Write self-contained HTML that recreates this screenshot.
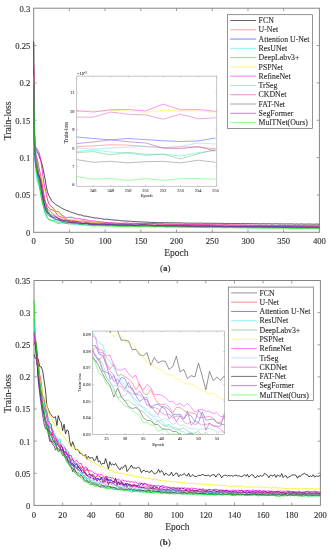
<!DOCTYPE html>
<html lang="en"><head><meta charset="utf-8"><title>Train-loss curves</title>
<style>html,body{margin:0;padding:0;background:#fff}body{width:331px;height:550px;overflow:hidden}svg{display:block}text{font-family:"Liberation Serif",serif;fill:#2e2e2e;stroke:#2e2e2e;stroke-width:.12px}text.s{stroke:#444;stroke-width:.08px;fill:#3c3c3c}</style>
</head><body>
<svg width="331" height="550" viewBox="0 0 331 550">
<rect width="331" height="550" fill="#fff"/>
<clipPath id="ca"><rect x="33.1" y="8.2" width="286.9" height="224.6"/></clipPath>
<rect x="33.7" y="8.2" width="285.7" height="224.1" fill="none" stroke="#858585" stroke-width="1.0"/>
<g clip-path="url(#ca)">
<polyline points="33.7,41.81 34.41,131.55 35.13,146.33 35.84,148.56 36.56,150.35 37.27,151.86 37.99,152.97 38.7,154.6 39.41,156.77 40.13,158.97 40.84,160.54 41.56,162.35 42.27,165.23 42.99,168.4 43.7,171.86 44.41,175.8 45.13,179.56 45.84,183.88 46.56,187.58 47.27,191.17 47.98,193.38 48.7,195.33 49.41,196.64 50.13,198.04 50.84,199.11 51.56,200.59 52.27,201.56 52.98,202.31 53.7,202.61 54.41,203.39 55.13,204.03 55.84,204.71 56.56,205.11 57.27,205.39 57.98,205.84 58.7,206.2 59.41,206.68 60.13,207.1 60.84,207.53 61.56,208.03 62.27,208.34 62.98,208.85 63.7,209.21 64.41,209.41 65.13,209.79 65.84,210.03 66.56,210.48 67.27,210.68 67.98,210.85 68.7,211.07 69.41,211.41 70.13,211.88 70.84,212.16 71.56,212.31 72.27,212.5 72.98,212.81 73.7,212.96 74.41,213.11 75.13,213.39 75.84,213.65 76.56,214.04 77.27,214.16 77.98,214.48 78.7,214.68 79.41,214.89 80.13,214.88 80.84,214.91 81.55,215.18 82.27,215.49 82.98,215.69 83.7,215.91 84.41,216.04 85.13,216.25 85.84,216.14 86.55,216.2 87.27,216.37 87.98,216.64 88.7,216.86 89.41,216.85 90.13,216.99 90.84,217.12 91.55,217.34 92.27,217.44 92.98,217.55 93.7,217.78 94.41,217.88 95.13,218.01 95.84,217.95 96.55,218 97.27,218.07 97.98,218.2 98.7,218.36 99.41,218.38 100.13,218.51 100.84,218.52 101.55,218.76 102.27,218.82 102.98,219.05 103.7,219.17 104.41,219.29 105.12,219.32 105.84,219.24 106.55,219.15 107.27,219.22 107.98,219.34 108.7,219.55 109.41,219.53 110.12,219.57 110.84,219.67 111.55,219.73 112.27,219.75 112.98,219.87 113.7,219.98 114.41,220.08 115.12,220.14 115.84,220.18 116.55,220.3 117.27,220.24 117.98,220.31 118.7,220.31 119.41,220.46 120.12,220.54 120.84,220.72 121.55,220.81 122.27,220.84 122.98,220.9 123.7,220.84 124.41,221.01 125.12,220.9 125.84,221.05 126.55,220.96 127.27,221.05 127.98,221.13 128.7,221.16 129.41,221.13 130.12,221.1 130.84,221.23 131.55,221.37 132.27,221.46 132.98,221.43 133.69,221.5 134.41,221.49 135.12,221.64 135.84,221.68 136.55,221.79 137.27,221.72 137.98,221.73 138.69,221.65 139.41,221.76 140.12,221.82 140.84,221.93 141.55,221.99 142.27,221.99 142.98,222.03 143.69,222.05 144.41,222.15 145.12,222.21 145.84,222.14 146.55,222.14 147.27,222.18 147.98,222.27 148.69,222.2 149.41,222.25 150.12,222.3 150.84,222.43 151.55,222.47 152.27,222.45 152.98,222.44 153.69,222.37 154.41,222.47 155.12,222.47 155.84,222.52 156.55,222.51 157.27,222.61 157.98,222.66 158.69,222.6 159.41,222.59 160.12,222.53 160.84,222.62 161.55,222.63 162.26,222.68 162.98,222.67 163.69,222.68 164.41,222.67 165.12,222.72 165.84,222.66 166.55,222.63 167.26,222.63 167.98,222.73 168.69,222.84 169.41,222.83 170.12,222.77 170.84,222.72 171.55,222.75 172.26,222.77 172.98,222.74 173.69,222.73 174.41,222.8 175.12,222.78 175.84,222.9 176.55,222.85 177.26,222.9 177.98,222.82 178.69,222.78 179.41,222.74 180.12,222.85 180.84,223.03 181.55,223.07 182.26,223.07 182.98,223 183.69,223.01 184.41,223.05 185.12,223.16 185.84,223.19 186.55,223.12 187.26,223.04 187.98,223.06 188.69,223.11 189.41,223.18 190.12,223.2 190.83,223.21 191.55,223.23 192.26,223.2 192.98,223.17 193.69,223.08 194.41,223.16 195.12,223.2 195.83,223.27 196.55,223.27 197.26,223.24 197.98,223.24 198.69,223.19 199.41,223.19 200.12,223.07 200.83,223.16 201.55,223.14 202.26,223.24 202.98,223.19 203.69,223.3 204.41,223.33 205.12,223.3 205.83,223.24 206.55,223.23 207.26,223.28 207.98,223.23 208.69,223.24 209.41,223.34 210.12,223.26 210.83,223.3 211.55,223.26 212.26,223.34 212.98,223.3 213.69,223.34 214.41,223.37 215.12,223.34 215.83,223.37 216.55,223.35 217.26,223.31 217.98,223.37 218.69,223.38 219.41,223.36 220.12,223.34 220.83,223.34 221.55,223.43 222.26,223.44 222.98,223.48 223.69,223.39 224.4,223.48 225.12,223.46 225.83,223.52 226.55,223.53 227.26,223.45 227.98,223.4 228.69,223.37 229.4,223.41 230.12,223.47 230.83,223.57 231.55,223.6 232.26,223.63 232.98,223.51 233.69,223.58 234.4,223.6 235.12,223.61 235.83,223.52 236.55,223.5 237.26,223.5 237.98,223.49 238.69,223.54 239.4,223.56 240.12,223.71 240.83,223.63 241.55,223.58 242.26,223.46 242.98,223.51 243.69,223.55 244.4,223.59 245.12,223.64 245.83,223.66 246.55,223.67 247.26,223.6 247.98,223.57 248.69,223.59 249.4,223.68 250.12,223.74 250.83,223.67 251.55,223.63 252.26,223.61 252.97,223.7 253.69,223.78 254.4,223.79 255.12,223.74 255.83,223.72 256.55,223.73 257.26,223.78 257.97,223.77 258.69,223.83 259.4,223.84 260.12,223.88 260.83,223.78 261.55,223.81 262.26,223.76 262.97,223.74 263.69,223.72 264.4,223.78 265.12,223.84 265.83,223.83 266.55,223.86 267.26,223.85 267.97,223.77 268.69,223.74 269.4,223.78 270.12,223.91 270.83,223.89 271.55,223.94 272.26,223.95 272.97,223.92 273.69,223.91 274.4,223.82 275.12,223.82 275.83,223.77 276.55,223.8 277.26,223.79 277.97,223.81 278.69,223.86 279.4,224.01 280.12,224 280.83,223.92 281.54,223.83 282.26,223.87 282.97,223.98 283.69,224.04 284.4,224 285.12,223.97 285.83,223.95 286.54,223.95 287.26,223.96 287.97,223.98 288.69,223.99 289.4,223.98 290.12,223.96 290.83,223.9 291.54,223.88 292.26,223.9 292.97,224.05 293.69,224.06 294.4,224.15 295.12,224.14 295.83,224.13 296.54,224.02 297.26,223.97 297.97,224.08 298.69,224.13 299.4,224.16 300.12,224.07 300.83,223.96 301.54,223.93 302.26,223.99 302.97,224.14 303.69,224.15 304.4,224.13 305.12,224.13 305.83,224.13 306.54,224.17 307.26,224.08 307.97,224.05 308.69,223.96 309.4,224.03 310.11,224.05 310.83,224.11 311.54,224.11 312.26,224.15 312.97,224.2 313.69,224.24 314.4,224.2 315.11,224.16 315.83,224.09 316.54,224.09 317.26,224.15 317.97,224.2 318.69,224.23 319.4,224.17" fill="none" stroke="#101010" stroke-width="0.75" stroke-linejoin="round" />
<polyline points="33.7,67.96 34.41,140.09 35.13,153.3 35.84,155.21 36.56,156.88 37.27,159.3 37.99,162.54 38.7,166.43 39.41,169.88 40.13,173.34 40.84,176.28 41.56,180.43 42.27,184.45 42.99,189.33 43.7,193.87 44.41,198.33 45.13,201.24 45.84,203.03 46.56,204.24 47.27,205.26 47.98,206.32 48.7,207.14 49.41,208.24 50.13,209.05 50.84,209.62 51.56,209.63 52.27,209.97 52.98,210.23 53.7,210.72 54.41,211 55.13,211.85 55.84,212.83 56.56,213.96 57.27,214.9 57.98,215.72 58.7,216.32 59.41,216.75 60.13,216.96 60.84,217.06 61.56,216.98 62.27,216.98 62.98,217.22 63.7,217.57 64.41,217.97 65.13,218.41 65.84,219.04 66.56,219.69 67.27,220.02 67.98,220.22 68.7,220.25 69.41,220.24 70.13,220.02 70.84,219.95 71.56,219.95 72.27,220.22 72.98,220.35 73.7,220.6 74.41,220.7 75.13,220.74 75.84,220.79 76.56,220.9 77.27,221.11 77.98,221.22 78.7,221.16 79.41,221.14 80.13,221.19 80.84,221.2 81.55,221.13 82.27,221.07 82.98,221.06 83.7,221.13 84.41,221.19 85.13,221.42 85.84,221.52 86.55,221.58 87.27,221.62 87.98,221.79 88.7,222 89.41,222.02 90.13,222.09 90.84,222.07 91.55,222.1 92.27,222.06 92.98,222.25 93.7,222.51 94.41,222.83 95.13,223.03 95.84,223.19 96.55,223.25 97.27,223.17 97.98,222.97 98.7,222.83 99.41,222.78 100.13,222.82 100.84,222.93 101.55,223.06 102.27,223.28 102.98,223.31 103.7,223.32 104.41,223.26 105.12,223.38 105.84,223.51 106.55,223.64 107.27,223.65 107.98,223.64 108.7,223.71 109.41,223.68 110.12,223.76 110.84,223.67 111.55,223.76 112.27,223.88 112.98,224.03 113.7,224.1 114.41,224.12 115.12,224.12 115.84,224.16 116.55,224.22 117.27,224.16 117.98,224.05 118.7,223.91 119.41,223.95 120.12,223.99 120.84,224.07 121.55,224.12 122.27,224.17 122.98,224.08 123.7,224.09 124.41,224.02 125.12,224.1 125.84,224.14 126.55,224.23 127.27,224.34 127.98,224.45 128.7,224.57 129.41,224.55 130.12,224.47 130.84,224.5 131.55,224.57 132.27,224.66 132.98,224.77 133.69,224.88 134.41,225 135.12,225.09 135.84,225.19 136.55,225.25 137.27,225.26 137.98,225.26 138.69,225.23 139.41,225.12 140.12,225.02 140.84,224.91 141.55,224.86 142.27,224.84 142.98,224.79 143.69,224.88 144.41,224.9 145.12,225.04 145.84,224.98 146.55,225 147.27,225.12 147.98,225.28 148.69,225.35 149.41,225.27 150.12,225.2 150.84,225.21 151.55,225.2 152.27,225.2 152.98,225.21 153.69,225.21 154.41,225.36 155.12,225.39 155.84,225.52 156.55,225.44 157.27,225.48 157.98,225.47 158.69,225.46 159.41,225.45 160.12,225.41 160.84,225.44 161.55,225.38 162.26,225.33 162.98,225.25 163.69,225.29 164.41,225.32 165.12,225.42 165.84,225.48 166.55,225.53 167.26,225.5 167.98,225.48 168.69,225.46 169.41,225.45 170.12,225.39 170.84,225.4 171.55,225.38 172.26,225.46 172.98,225.5 173.69,225.68 174.41,225.76 175.12,225.87 175.84,225.92 176.55,225.89 177.26,225.86 177.98,225.72 178.69,225.68 179.41,225.64 180.12,225.67 180.84,225.68 181.55,225.68 182.26,225.71 182.98,225.8 183.69,225.93 184.41,225.99 185.12,226.08 185.84,226.02 186.55,226.03 187.26,225.98 187.98,226.02 188.69,226 189.41,226.04 190.12,226.09 190.83,226.12 191.55,226.12 192.26,226.06 192.98,225.95 193.69,225.91 194.41,225.87 195.12,225.99 195.83,225.98 196.55,226.03 197.26,226.02 197.98,226.04 198.69,226.03 199.41,226.08 200.12,226.15 200.83,226.29 201.55,226.3 202.26,226.31 202.98,226.25 203.69,226.26 204.41,226.2 205.12,226.28 205.83,226.28 206.55,226.28 207.26,226.2 207.98,226.18 208.69,226.19 209.41,226.21 210.12,226.26 210.83,226.23 211.55,226.19 212.26,226.2 212.98,226.26 213.69,226.3 214.41,226.28 215.12,226.28 215.83,226.35 216.55,226.34 217.26,226.32 217.98,226.34 218.69,226.41 219.41,226.47 220.12,226.45 220.83,226.45 221.55,226.36 222.26,226.36 222.98,226.31 223.69,226.33 224.4,226.33 225.12,226.42 225.83,226.47 226.55,226.48 227.26,226.47 227.98,226.53 228.69,226.57 229.4,226.6 230.12,226.54 230.83,226.61 231.55,226.59 232.26,226.64 232.98,226.57 233.69,226.53 234.4,226.5 235.12,226.47 235.83,226.42 236.55,226.47 237.26,226.46 237.98,226.55 238.69,226.54 239.4,226.6 240.12,226.67 240.83,226.73 241.55,226.73 242.26,226.69 242.98,226.68 243.69,226.63 244.4,226.55 245.12,226.55 245.83,226.57 246.55,226.53 247.26,226.44 247.98,226.42 248.69,226.49 249.4,226.53 250.12,226.56 250.83,226.58 251.55,226.56 252.26,226.57 252.97,226.57 253.69,226.64 254.4,226.65 255.12,226.7 255.83,226.71 256.55,226.73 257.26,226.75 257.97,226.77 258.69,226.81 259.4,226.82 260.12,226.83 260.83,226.83 261.55,226.78 262.26,226.78 262.97,226.72 263.69,226.74 264.4,226.74 265.12,226.82 265.83,226.86 266.55,226.86 267.26,226.87 267.97,226.82 268.69,226.84 269.4,226.88 270.12,226.93 270.83,226.97 271.55,226.92 272.26,226.89 272.97,226.83 273.69,226.87 274.4,226.93 275.12,226.92 275.83,226.88 276.55,226.87 277.26,226.9 277.97,226.85 278.69,226.83 279.4,226.87 280.12,226.95 280.83,226.99 281.54,227.05 282.26,227.12 282.97,227.15 283.69,227.16 284.4,227.13 285.12,227.11 285.83,227 286.54,227 287.26,226.98 287.97,227.03 288.69,226.99 289.4,226.96 290.12,226.97 290.83,227.01 291.54,227.09 292.26,227.11 292.97,227.08 293.69,227.05 294.4,227.06 295.12,227.09 295.83,227.11 296.54,227.09 297.26,227.1 297.97,227.12 298.69,227.19 299.4,227.21 300.12,227.18 300.83,227.22 301.54,227.22 302.26,227.28 302.97,227.24 303.69,227.25 304.4,227.23 305.12,227.18 305.83,227.13 306.54,227.14 307.26,227.12 307.97,227.14 308.69,227.11 309.4,227.12 310.11,227.11 310.83,227.11 311.54,227.17 312.26,227.2 312.97,227.23 313.69,227.21 314.4,227.22 315.11,227.27 315.83,227.31 316.54,227.32 317.26,227.34 317.97,227.32 318.69,227.34 319.4,227.29" fill="none" stroke="#f01010" stroke-width="0.75" stroke-linejoin="round" />
<polyline points="33.7,75.43 34.41,144.15 35.13,160.16 35.84,165.54 36.56,168.73 37.27,171.91 37.99,174.51 38.7,176.8 39.41,179.4 40.13,182.99 40.84,186.67 41.56,191.42 42.27,195.58 42.99,199.27 43.7,201.89 44.41,204.19 45.13,206.05 45.84,207.55 46.56,209.15 47.27,210.66 47.98,212.22 48.7,213.51 49.41,214.51 50.13,215.14 50.84,215.68 51.56,216.33 52.27,217.13 52.98,217.95 53.7,218.54 54.41,219.02 55.13,219.37 55.84,219.51 56.56,219.43 57.27,219.34 57.98,219.34 58.7,219.65 59.41,219.98 60.13,220.44 60.84,220.68 61.56,220.98 62.27,221.14 62.98,221.28 63.7,221.13 64.41,220.92 65.13,220.74 65.84,220.56 66.56,220.59 67.27,220.59 67.98,220.85 68.7,221.09 69.41,221.57 70.13,221.95 70.84,222.3 71.56,222.49 72.27,222.74 72.98,222.77 73.7,222.82 74.41,222.79 75.13,222.95 75.84,223.13 76.56,223.32 77.27,223.58 77.98,223.76 78.7,223.84 79.41,223.83 80.13,223.83 80.84,223.87 81.55,223.9 82.27,223.83 82.98,223.68 83.7,223.62 84.41,223.51 85.13,223.49 85.84,223.45 86.55,223.52 87.27,223.67 87.98,223.77 88.7,223.87 89.41,223.81 90.13,223.74 90.84,223.72 91.55,223.74 92.27,223.87 92.98,223.9 93.7,224.1 94.41,224.2 95.13,224.38 95.84,224.45 96.55,224.5 97.27,224.5 97.98,224.4 98.7,224.24 99.41,224.09 100.13,224.06 100.84,224.09 101.55,224.16 102.27,224.15 102.98,224.26 103.7,224.26 104.41,224.39 105.12,224.43 105.84,224.52 106.55,224.47 107.27,224.42 107.98,224.38 108.7,224.42 109.41,224.4 110.12,224.41 110.84,224.42 111.55,224.41 112.27,224.45 112.98,224.44 113.7,224.55 114.41,224.61 115.12,224.64 115.84,224.71 116.55,224.7 117.27,224.72 117.98,224.67 118.7,224.81 119.41,224.87 120.12,224.9 120.84,224.86 121.55,224.84 122.27,224.91 122.98,224.8 123.7,224.77 124.41,224.61 125.12,224.7 125.84,224.66 126.55,224.72 127.27,224.64 127.98,224.71 128.7,224.72 129.41,224.68 130.12,224.7 130.84,224.75 131.55,224.89 132.27,224.94 132.98,224.91 133.69,224.88 134.41,224.89 135.12,224.99 135.84,224.98 136.55,224.87 137.27,224.72 137.98,224.68 138.69,224.71 139.41,224.71 140.12,224.78 140.84,224.8 141.55,224.79 142.27,224.82 142.98,224.75 143.69,224.86 144.41,224.96 145.12,225.11 145.84,225.12 146.55,225.14 147.27,225.24 147.98,225.29 148.69,225.22 149.41,225.14 150.12,225.14 150.84,225.14 151.55,225.14 152.27,225.19 152.98,225.29 153.69,225.37 154.41,225.35 155.12,225.36 155.84,225.29 156.55,225.27 157.27,225.3 157.98,225.28 158.69,225.24 159.41,225.14 160.12,225.13 160.84,225.23 161.55,225.34 162.26,225.42 162.98,225.49 163.69,225.56 164.41,225.54 165.12,225.48 165.84,225.37 166.55,225.42 167.26,225.44 167.98,225.47 168.69,225.46 169.41,225.44 170.12,225.53 170.84,225.56 171.55,225.65 172.26,225.62 172.98,225.6 173.69,225.52 174.41,225.48 175.12,225.4 175.84,225.41 176.55,225.37 177.26,225.47 177.98,225.43 178.69,225.5 179.41,225.48 180.12,225.56 180.84,225.51 181.55,225.57 182.26,225.55 182.98,225.53 183.69,225.48 184.41,225.46 185.12,225.45 185.84,225.45 186.55,225.48 187.26,225.51 187.98,225.54 188.69,225.47 189.41,225.46 190.12,225.48 190.83,225.59 191.55,225.68 192.26,225.73 192.98,225.8 193.69,225.82 194.41,225.91 195.12,225.91 195.83,225.96 196.55,225.91 197.26,225.89 197.98,225.91 198.69,225.88 199.41,225.9 200.12,225.87 200.83,225.92 201.55,225.94 202.26,225.88 202.98,225.86 203.69,225.81 204.41,225.79 205.12,225.73 205.83,225.7 206.55,225.75 207.26,225.81 207.98,225.81 208.69,225.77 209.41,225.7 210.12,225.87 210.83,225.94 211.55,225.99 212.26,225.94 212.98,225.98 213.69,226.03 214.41,226.06 215.12,226.03 215.83,225.91 216.55,226.09 217.26,226.01 217.98,226 218.69,225.91 219.41,225.93 220.12,225.92 220.83,225.91 221.55,225.97 222.26,226.07 222.98,226.21 223.69,226.25 224.4,226.17 225.12,226.15 225.83,226.1 226.55,226.19 227.26,226.16 227.98,226.16 228.69,226.07 229.4,226.11 230.12,226.13 230.83,226.2 231.55,226.21 232.26,226.23 232.98,226.25 233.69,226.29 234.4,226.28 235.12,226.28 235.83,226.24 236.55,226.33 237.26,226.32 237.98,226.31 238.69,226.24 239.4,226.23 240.12,226.23 240.83,226.23 241.55,226.27 242.26,226.26 242.98,226.28 243.69,226.29 244.4,226.27 245.12,226.29 245.83,226.33 246.55,226.4 247.26,226.41 247.98,226.45 248.69,226.47 249.4,226.51 250.12,226.53 250.83,226.56 251.55,226.61 252.26,226.55 252.97,226.51 253.69,226.45 254.4,226.48 255.12,226.42 255.83,226.4 256.55,226.41 257.26,226.49 257.97,226.51 258.69,226.48 259.4,226.49 260.12,226.42 260.83,226.47 261.55,226.44 262.26,226.53 262.97,226.45 263.69,226.48 264.4,226.47 265.12,226.51 265.83,226.48 266.55,226.52 267.26,226.56 267.97,226.64 268.69,226.6 269.4,226.58 270.12,226.53 270.83,226.54 271.55,226.54 272.26,226.55 272.97,226.52 273.69,226.49 274.4,226.57 275.12,226.64 275.83,226.74 276.55,226.71 277.26,226.76 277.97,226.78 278.69,226.84 279.4,226.81 280.12,226.81 280.83,226.78 281.54,226.76 282.26,226.73 282.97,226.72 283.69,226.68 284.4,226.68 285.12,226.68 285.83,226.74 286.54,226.78 287.26,226.84 287.97,226.89 288.69,226.85 289.4,226.73 290.12,226.68 290.83,226.73 291.54,226.8 292.26,226.82 292.97,226.85 293.69,226.85 294.4,226.88 295.12,226.88 295.83,226.85 296.54,226.84 297.26,226.81 297.97,226.83 298.69,226.81 299.4,226.84 300.12,226.86 300.83,226.91 301.54,226.84 302.26,226.83 302.97,226.84 303.69,226.9 304.4,226.91 305.12,226.88 305.83,226.84 306.54,226.84 307.26,226.88 307.97,226.94 308.69,227.03 309.4,227.01 310.11,227.02 310.83,226.92 311.54,226.94 312.26,227.02 312.97,227.14 313.69,227.15 314.4,227.14 315.11,227.14 315.83,227.14 316.54,227.07 317.26,227.04 317.97,227.04 318.69,227.03 319.4,227.02" fill="none" stroke="#1010f0" stroke-width="0.75" stroke-linejoin="round" />
<polyline points="33.7,90.37 34.41,140.27 35.13,160.01 35.84,169.92 36.56,176.63 37.27,180.72 37.99,182.89 38.7,184.68 39.41,187.72 40.13,191.47 40.84,194.79 41.56,198.17 42.27,201.16 42.99,204.19 43.7,207.27 44.41,210.08 45.13,212.77 45.84,214.63 46.56,216.46 47.27,217.73 47.98,218.59 48.7,219.02 49.41,219.42 50.13,219.82 50.84,220.29 51.56,220.55 52.27,220.68 52.98,220.52 53.7,220.42 54.41,220.46 55.13,220.68 55.84,221.02 56.56,221.36 57.27,221.7 57.98,221.97 58.7,222.1 59.41,222.13 60.13,222.08 60.84,222.11 61.56,222.24 62.27,222.52 62.98,222.76 63.7,222.98 64.41,222.96 65.13,222.99 65.84,223.02 66.56,223.03 67.27,223.03 67.98,222.98 68.7,222.92 69.41,222.85 70.13,222.91 70.84,222.99 71.56,223.17 72.27,223.32 72.98,223.62 73.7,223.98 74.41,224.31 75.13,224.61 75.84,224.76 76.56,224.81 77.27,224.85 77.98,224.84 78.7,224.75 79.41,224.59 80.13,224.41 80.84,224.37 81.55,224.29 82.27,224.28 82.98,224.21 83.7,224.29 84.41,224.36 85.13,224.49 85.84,224.58 86.55,224.68 87.27,224.7 87.98,224.76 88.7,224.76 89.41,224.83 90.13,224.87 90.84,224.98 91.55,225.05 92.27,225.09 92.98,225.11 93.7,225.14 94.41,225.14 95.13,225.15 95.84,225.07 96.55,225.01 97.27,224.99 97.98,224.88 98.7,224.81 99.41,224.77 100.13,224.86 100.84,224.97 101.55,224.94 102.27,225.01 102.98,225.12 103.7,225.22 104.41,225.29 105.12,225.19 105.84,225.26 106.55,225.33 107.27,225.4 107.98,225.38 108.7,225.34 109.41,225.45 110.12,225.46 110.84,225.42 111.55,225.42 112.27,225.39 112.98,225.43 113.7,225.23 114.41,225.2 115.12,225.16 115.84,225.2 116.55,225.22 117.27,225.28 117.98,225.32 118.7,225.34 119.41,225.33 120.12,225.21 120.84,225.13 121.55,225.05 122.27,225.1 122.98,225.17 123.7,225.24 124.41,225.33 125.12,225.34 125.84,225.32 126.55,225.29 127.27,225.3 127.98,225.31 128.7,225.34 129.41,225.38 130.12,225.42 130.84,225.52 131.55,225.51 132.27,225.58 132.98,225.61 133.69,225.74 134.41,225.77 135.12,225.79 135.84,225.69 136.55,225.68 137.27,225.68 137.98,225.69 138.69,225.69 139.41,225.7 140.12,225.69 140.84,225.69 141.55,225.61 142.27,225.57 142.98,225.52 143.69,225.49 144.41,225.49 145.12,225.42 145.84,225.39 146.55,225.43 147.27,225.45 147.98,225.51 148.69,225.49 149.41,225.54 150.12,225.55 150.84,225.52 151.55,225.57 152.27,225.66 152.98,225.73 153.69,225.78 154.41,225.79 155.12,226 155.84,226.02 156.55,226.06 157.27,225.99 157.98,226 158.69,225.95 159.41,225.93 160.12,225.88 160.84,225.93 161.55,225.94 162.26,225.97 162.98,225.98 163.69,226.05 164.41,226.09 165.12,226.13 165.84,226.11 166.55,226.08 167.26,226.07 167.98,226.08 168.69,226.13 169.41,226.05 170.12,226.05 170.84,226 171.55,226.03 172.26,225.97 172.98,226.03 173.69,226.08 174.41,226.12 175.12,226.08 175.84,226.1 176.55,226.13 177.26,226.1 177.98,226.01 178.69,225.94 179.41,225.98 180.12,226.03 180.84,226.08 181.55,226.1 182.26,226.2 182.98,226.24 183.69,226.3 184.41,226.31 185.12,226.3 185.84,226.29 186.55,226.26 187.26,226.23 187.98,226.25 188.69,226.21 189.41,226.19 190.12,226.11 190.83,226.07 191.55,226.12 192.26,226.2 192.98,226.26 193.69,226.24 194.41,226.16 195.12,226.16 195.83,226.22 196.55,226.28 197.26,226.35 197.98,226.39 198.69,226.37 199.41,226.37 200.12,226.32 200.83,226.39 201.55,226.34 202.26,226.35 202.98,226.33 203.69,226.41 204.41,226.46 205.12,226.46 205.83,226.39 206.55,226.34 207.26,226.38 207.98,226.42 208.69,226.46 209.41,226.44 210.12,226.47 210.83,226.4 211.55,226.48 212.26,226.53 212.98,226.62 213.69,226.57 214.41,226.65 215.12,226.51 215.83,226.42 216.55,226.39 217.26,226.4 217.98,226.44 218.69,226.41 219.41,226.41 220.12,226.49 220.83,226.52 221.55,226.59 222.26,226.59 222.98,226.62 223.69,226.63 224.4,226.63 225.12,226.59 225.83,226.6 226.55,226.62 227.26,226.74 227.98,226.76 228.69,226.78 229.4,226.74 230.12,226.7 230.83,226.65 231.55,226.61 232.26,226.61 232.98,226.66 233.69,226.75 234.4,226.78 235.12,226.8 235.83,226.78 236.55,226.77 237.26,226.77 237.98,226.76 238.69,226.82 239.4,226.76 240.12,226.77 240.83,226.77 241.55,226.9 242.26,226.93 242.98,226.98 243.69,226.96 244.4,226.93 245.12,226.86 245.83,226.83 246.55,226.81 247.26,226.85 247.98,226.85 248.69,226.92 249.4,226.94 250.12,226.97 250.83,227 251.55,226.93 252.26,226.96 252.97,226.88 253.69,226.97 254.4,226.95 255.12,227.04 255.83,227.05 256.55,227.07 257.26,227.03 257.97,227.05 258.69,227.04 259.4,227.09 260.12,227.06 260.83,227.09 261.55,227.05 262.26,227.1 262.97,227.06 263.69,227.06 264.4,227.02 265.12,227.07 265.83,227.12 266.55,227.15 267.26,227.13 267.97,227.13 268.69,227.17 269.4,227.23 270.12,227.21 270.83,227.19 271.55,227.18 272.26,227.16 272.97,227.12 273.69,227.09 274.4,227.14 275.12,227.19 275.83,227.24 276.55,227.25 277.26,227.23 277.97,227.21 278.69,227.21 279.4,227.23 280.12,227.25 280.83,227.3 281.54,227.35 282.26,227.35 282.97,227.32 283.69,227.26 284.4,227.24 285.12,227.25 285.83,227.28 286.54,227.31 287.26,227.31 287.97,227.33 288.69,227.33 289.4,227.34 290.12,227.35 290.83,227.35 291.54,227.3 292.26,227.3 292.97,227.29 293.69,227.33 294.4,227.28 295.12,227.33 295.83,227.31 296.54,227.33 297.26,227.32 297.97,227.39 298.69,227.41 299.4,227.43 300.12,227.45 300.83,227.44 301.54,227.45 302.26,227.45 302.97,227.43 303.69,227.38 304.4,227.33 305.12,227.38 305.83,227.38 306.54,227.41 307.26,227.36 307.97,227.42 308.69,227.43 309.4,227.49 310.11,227.52 310.83,227.57 311.54,227.56 312.26,227.55 312.97,227.56 313.69,227.55 314.4,227.49 315.11,227.42 315.83,227.44 316.54,227.46 317.26,227.48 317.97,227.5 318.69,227.55 319.4,227.6" fill="none" stroke="#00e0e0" stroke-width="0.75" stroke-linejoin="round" />
<polyline points="33.7,82.9 34.41,141.56 35.13,156.99 35.84,163.13 36.56,168.22 37.27,173.13 37.99,177.28 38.7,180.9 39.41,183.42 40.13,186.09 40.84,188.67 41.56,191.28 42.27,193.06 42.99,195.04 43.7,197.26 44.41,199.87 45.13,202.69 45.84,205.26 46.56,207.62 47.27,209.47 47.98,211.21 48.7,212.24 49.41,213.05 50.13,213.62 50.84,214.35 51.56,214.82 52.27,215.11 52.98,215.33 53.7,215.63 54.41,216.04 55.13,216.36 55.84,216.68 56.56,216.96 57.27,217.51 57.98,218.02 58.7,218.55 59.41,219.01 60.13,219.49 60.84,219.98 61.56,220.29 62.27,220.45 62.98,220.38 63.7,220.29 64.41,220.33 65.13,220.35 65.84,220.43 66.56,220.36 67.27,220.5 67.98,220.6 68.7,220.72 69.41,220.86 70.13,220.98 70.84,221.22 71.56,221.27 72.27,221.35 72.98,221.45 73.7,221.67 74.41,221.76 75.13,221.85 75.84,221.83 76.56,221.76 77.27,221.6 77.98,221.54 78.7,221.8 79.41,222.13 80.13,222.48 80.84,222.81 81.55,223.07 82.27,223.38 82.98,223.39 83.7,223.41 84.41,223.14 85.13,223.04 85.84,222.9 86.55,223.04 87.27,223.27 87.98,223.58 88.7,223.77 89.41,223.9 90.13,223.86 90.84,223.75 91.55,223.65 92.27,223.7 92.98,223.76 93.7,223.85 94.41,223.82 95.13,223.88 95.84,223.92 96.55,224.08 97.27,224.26 97.98,224.36 98.7,224.4 99.41,224.29 100.13,224.22 100.84,224.15 101.55,224.09 102.27,223.96 102.98,223.95 103.7,224.02 104.41,224.18 105.12,224.25 105.84,224.28 106.55,224.25 107.27,224.11 107.98,224.1 108.7,224.08 109.41,224.15 110.12,224.17 110.84,224.31 111.55,224.48 112.27,224.58 112.98,224.71 113.7,224.79 114.41,224.89 115.12,224.91 115.84,224.94 116.55,224.93 117.27,224.96 117.98,224.97 118.7,225.03 119.41,225.08 120.12,225.15 120.84,225.23 121.55,225.23 122.27,225.27 122.98,225.3 123.7,225.33 124.41,225.3 125.12,225.33 125.84,225.28 126.55,225.3 127.27,225.24 127.98,225.25 128.7,225.24 129.41,225.23 130.12,225.19 130.84,225.26 131.55,225.29 132.27,225.4 132.98,225.46 133.69,225.48 134.41,225.48 135.12,225.36 135.84,225.4 136.55,225.45 137.27,225.57 137.98,225.6 138.69,225.69 139.41,225.71 140.12,225.68 140.84,225.56 141.55,225.46 142.27,225.37 142.98,225.36 143.69,225.41 144.41,225.54 145.12,225.63 145.84,225.7 146.55,225.72 147.27,225.74 147.98,225.76 148.69,225.66 149.41,225.57 150.12,225.56 150.84,225.63 151.55,225.76 152.27,225.75 152.98,225.78 153.69,225.79 154.41,225.84 155.12,225.84 155.84,225.87 156.55,225.84 157.27,225.88 157.98,225.86 158.69,225.91 159.41,225.88 160.12,225.92 160.84,225.91 161.55,225.99 162.26,225.96 162.98,225.98 163.69,225.9 164.41,225.89 165.12,225.83 165.84,225.9 166.55,225.91 167.26,226.01 167.98,225.92 168.69,226.01 169.41,226.01 170.12,226.11 170.84,226 171.55,226.03 172.26,226 172.98,226.08 173.69,226.11 174.41,226.13 175.12,226.1 175.84,226.06 176.55,226.05 177.26,226.1 177.98,226.09 178.69,226.13 179.41,226.11 180.12,226.07 180.84,226.07 181.55,226.1 182.26,226.22 182.98,226.29 183.69,226.3 184.41,226.34 185.12,226.35 185.84,226.39 186.55,226.35 187.26,226.25 187.98,226.29 188.69,226.25 189.41,226.28 190.12,226.24 190.83,226.27 191.55,226.27 192.26,226.18 192.98,226.19 193.69,226.28 194.41,226.33 195.12,226.29 195.83,226.27 196.55,226.36 197.26,226.33 197.98,226.3 198.69,226.18 199.41,226.22 200.12,226.26 200.83,226.35 201.55,226.36 202.26,226.35 202.98,226.44 203.69,226.56 204.41,226.6 205.12,226.6 205.83,226.65 206.55,226.72 207.26,226.7 207.98,226.62 208.69,226.58 209.41,226.53 210.12,226.51 210.83,226.47 211.55,226.6 212.26,226.5 212.98,226.58 213.69,226.57 214.41,226.76 215.12,226.56 215.83,226.38 216.55,226.62 217.26,226.58 217.98,226.56 218.69,226.49 219.41,226.45 220.12,226.44 220.83,226.5 221.55,226.52 222.26,226.54 222.98,226.56 223.69,226.66 224.4,226.76 225.12,226.76 225.83,226.71 226.55,226.63 227.26,226.66 227.98,226.65 228.69,226.68 229.4,226.64 230.12,226.67 230.83,226.7 231.55,226.76 232.26,226.85 232.98,226.87 233.69,226.91 234.4,226.84 235.12,226.81 235.83,226.73 236.55,226.74 237.26,226.78 237.98,226.81 238.69,226.85 239.4,226.83 240.12,226.83 240.83,226.85 241.55,226.87 242.26,226.89 242.98,226.89 243.69,226.89 244.4,226.87 245.12,226.89 245.83,226.94 246.55,227.04 247.26,227.03 247.98,227.03 248.69,227.04 249.4,227.05 250.12,227.05 250.83,227.03 251.55,227.07 252.26,227.11 252.97,227.07 253.69,227.09 254.4,227.05 255.12,226.99 255.83,226.93 256.55,226.9 257.26,226.97 257.97,227.01 258.69,227.05 259.4,227.05 260.12,227.07 260.83,227.09 261.55,227.09 262.26,227.06 262.97,227.12 263.69,227.19 264.4,227.26 265.12,227.19 265.83,227.13 266.55,227.07 267.26,227.12 267.97,227.17 268.69,227.19 269.4,227.17 270.12,227.16 270.83,227.15 271.55,227.14 272.26,227.12 272.97,227.15 273.69,227.23 274.4,227.26 275.12,227.23 275.83,227.18 276.55,227.19 277.26,227.21 277.97,227.19 278.69,227.19 279.4,227.19 280.12,227.25 280.83,227.3 281.54,227.33 282.26,227.37 282.97,227.41 283.69,227.44 284.4,227.39 285.12,227.36 285.83,227.3 286.54,227.32 287.26,227.31 287.97,227.36 288.69,227.36 289.4,227.31 290.12,227.26 290.83,227.23 291.54,227.27 292.26,227.3 292.97,227.35 293.69,227.38 294.4,227.38 295.12,227.37 295.83,227.35 296.54,227.34 297.26,227.36 297.97,227.38 298.69,227.42 299.4,227.38 300.12,227.44 300.83,227.44 301.54,227.41 302.26,227.38 302.97,227.42 303.69,227.5 304.4,227.47 305.12,227.45 305.83,227.42 306.54,227.43 307.26,227.43 307.97,227.36 308.69,227.37 309.4,227.39 310.11,227.5 310.83,227.51 311.54,227.5 312.26,227.47 312.97,227.47 313.69,227.52 314.4,227.54 315.11,227.58 315.83,227.58 316.54,227.65 317.26,227.67 317.97,227.69 318.69,227.65 319.4,227.63" fill="none" stroke="#339933" stroke-width="0.75" stroke-linejoin="round" />
<polyline points="33.7,75.43 34.41,133.03 35.13,149.11 35.84,155.91 36.56,160.69 37.27,165.97 37.99,169.68 38.7,172.69 39.41,174.14 40.13,175.5 40.84,176.76 41.56,178.32 42.27,179.98 42.99,182.44 43.7,185.63 44.41,189.17 45.13,192.54 45.84,195.46 46.56,197.97 47.27,199.88 47.98,201.31 48.7,202.37 49.41,203.5 50.13,204.55 50.84,205.59 51.56,206.5 52.27,207.46 52.98,208.37 53.7,209.35 54.41,210.32 55.13,211.24 55.84,211.81 56.56,212.15 57.27,212.42 57.98,212.86 58.7,213.14 59.41,213.71 60.13,214.3 60.84,215.11 61.56,215.78 62.27,216.42 62.98,216.99 63.7,217.48 64.41,218.02 65.13,218.57 65.84,218.98 66.56,219.19 67.27,219.42 67.98,219.55 68.7,219.58 69.41,219.37 70.13,219.16 70.84,218.99 71.56,219.15 72.27,219.22 72.98,219.36 73.7,219.46 74.41,219.87 75.13,220.31 75.84,220.53 76.56,220.68 77.27,220.71 77.98,220.94 78.7,221.05 79.41,221.24 80.13,221.51 80.84,221.63 81.55,221.74 82.27,221.62 82.98,221.55 83.7,221.41 84.41,221.21 85.13,221.29 85.84,221.34 86.55,221.5 87.27,221.64 87.98,221.91 88.7,222.21 89.41,222.4 90.13,222.44 90.84,222.43 91.55,222.32 92.27,222.19 92.98,222.11 93.7,222.05 94.41,222.05 95.13,222.16 95.84,222.3 96.55,222.5 97.27,222.6 97.98,222.66 98.7,222.8 99.41,222.77 100.13,222.79 100.84,222.78 101.55,222.88 102.27,222.89 102.98,222.82 103.7,222.74 104.41,222.63 105.12,222.6 105.84,222.6 106.55,222.68 107.27,222.82 107.98,223 108.7,223.11 109.41,223.18 110.12,223.06 110.84,223.06 111.55,222.96 112.27,223.02 112.98,223.05 113.7,223.21 114.41,223.37 115.12,223.36 115.84,223.35 116.55,223.19 117.27,223.2 117.98,223.11 118.7,223.02 119.41,222.98 120.12,222.95 120.84,223.15 121.55,223.23 122.27,223.45 122.98,223.53 123.7,223.67 124.41,223.69 125.12,223.62 125.84,223.68 126.55,223.67 127.27,223.76 127.98,223.61 128.7,223.63 129.41,223.55 130.12,223.55 130.84,223.42 131.55,223.33 132.27,223.32 132.98,223.4 133.69,223.6 134.41,223.66 135.12,223.71 135.84,223.72 136.55,223.71 137.27,223.8 137.98,223.79 138.69,223.83 139.41,223.73 140.12,223.63 140.84,223.57 141.55,223.55 142.27,223.51 142.98,223.5 143.69,223.52 144.41,223.59 145.12,223.48 145.84,223.58 146.55,223.64 147.27,223.78 147.98,223.76 148.69,223.85 149.41,223.93 150.12,223.89 150.84,223.77 151.55,223.79 152.27,223.8 152.98,223.86 153.69,223.8 154.41,223.78 155.12,223.78 155.84,223.85 156.55,223.85 157.27,223.75 157.98,223.69 158.69,223.77 159.41,223.84 160.12,224.01 160.84,224.05 161.55,224.23 162.26,224.22 162.98,224.28 163.69,224.21 164.41,224.27 165.12,224.3 165.84,224.43 166.55,224.34 167.26,224.31 167.98,224.19 168.69,224.25 169.41,224.25 170.12,224.22 170.84,224.17 171.55,224.1 172.26,224.09 172.98,224.07 173.69,224.14 174.41,224.12 175.12,224.11 175.84,224.05 176.55,224.21 177.26,224.32 177.98,224.46 178.69,224.42 179.41,224.3 180.12,224.19 180.84,224.16 181.55,224.21 182.26,224.22 182.98,224.27 183.69,224.3 184.41,224.36 185.12,224.46 185.84,224.51 186.55,224.49 187.26,224.45 187.98,224.49 188.69,224.62 189.41,224.67 190.12,224.67 190.83,224.69 191.55,224.72 192.26,224.89 192.98,224.88 193.69,224.9 194.41,224.84 195.12,224.79 195.83,224.7 196.55,224.72 197.26,224.72 197.98,224.72 198.69,224.65 199.41,224.63 200.12,224.69 200.83,224.7 201.55,224.79 202.26,224.78 202.98,224.72 203.69,224.73 204.41,224.74 205.12,224.83 205.83,224.78 206.55,224.73 207.26,224.63 207.98,224.62 208.69,224.62 209.41,224.66 210.12,224.83 210.83,224.82 211.55,224.79 212.26,224.82 212.98,224.87 213.69,224.79 214.41,224.82 215.12,224.82 215.83,224.87 216.55,225.01 217.26,225 217.98,224.99 218.69,224.98 219.41,224.99 220.12,224.95 220.83,224.89 221.55,224.93 222.26,224.98 222.98,225.02 223.69,224.94 224.4,224.95 225.12,224.96 225.83,224.98 226.55,225.01 227.26,224.98 227.98,225 228.69,224.95 229.4,225.02 230.12,225.04 230.83,225.11 231.55,225.12 232.26,225.08 232.98,225.05 233.69,224.97 234.4,225.03 235.12,225.01 235.83,225.1 236.55,225.09 237.26,225.15 237.98,225.12 238.69,225.15 239.4,225.2 240.12,225.25 240.83,225.31 241.55,225.33 242.26,225.35 242.98,225.35 243.69,225.35 244.4,225.33 245.12,225.31 245.83,225.28 246.55,225.27 247.26,225.25 247.98,225.3 248.69,225.4 249.4,225.42 250.12,225.39 250.83,225.29 251.55,225.29 252.26,225.3 252.97,225.34 253.69,225.39 254.4,225.43 255.12,225.42 255.83,225.36 256.55,225.33 257.26,225.38 257.97,225.47 258.69,225.47 259.4,225.48 260.12,225.45 260.83,225.51 261.55,225.54 262.26,225.58 262.97,225.55 263.69,225.5 264.4,225.48 265.12,225.53 265.83,225.59 266.55,225.64 267.26,225.6 267.97,225.54 268.69,225.46 269.4,225.43 270.12,225.42 270.83,225.45 271.55,225.49 272.26,225.57 272.97,225.61 273.69,225.56 274.4,225.6 275.12,225.55 275.83,225.56 276.55,225.5 277.26,225.52 277.97,225.56 278.69,225.53 279.4,225.49 280.12,225.46 280.83,225.43 281.54,225.42 282.26,225.41 282.97,225.44 283.69,225.49 284.4,225.51 285.12,225.58 285.83,225.59 286.54,225.61 287.26,225.61 287.97,225.55 288.69,225.58 289.4,225.57 290.12,225.64 290.83,225.69 291.54,225.71 292.26,225.79 292.97,225.78 293.69,225.76 294.4,225.69 295.12,225.61 295.83,225.56 296.54,225.5 297.26,225.49 297.97,225.51 298.69,225.5 299.4,225.54 300.12,225.57 300.83,225.57 301.54,225.55 302.26,225.54 302.97,225.59 303.69,225.6 304.4,225.67 305.12,225.72 305.83,225.8 306.54,225.75 307.26,225.76 307.97,225.65 308.69,225.6 309.4,225.58 310.11,225.61 310.83,225.67 311.54,225.66 312.26,225.68 312.97,225.67 313.69,225.76 314.4,225.81 315.11,225.81 315.83,225.75 316.54,225.71 317.26,225.79 317.97,225.81 318.69,225.89 319.4,225.86" fill="none" stroke="#f4ec00" stroke-width="0.75" stroke-linejoin="round" />
<polyline points="33.7,63.48 34.41,131.55 35.13,145.63 35.84,147.2 36.56,148.49 37.27,148.89 37.99,150.26 38.7,151.49 39.41,153.15 40.13,156.84 40.84,160.69 41.56,166.01 42.27,170.93 42.99,176.04 43.7,181.25 44.41,185.3 45.13,188.17 45.84,191.33 46.56,194.54 47.27,198.29 47.98,201.1 48.7,203.16 49.41,204.52 50.13,205.42 50.84,206.21 51.56,206.56 52.27,207.22 52.98,207.88 53.7,208.85 54.41,209.62 55.13,210.4 55.84,211.08 56.56,211.4 57.27,211.39 57.98,211.53 58.7,211.8 59.41,212.63 60.13,213.41 60.84,214.27 61.56,214.89 62.27,215.34 62.98,215.85 63.7,216.23 64.41,216.7 65.13,217.28 65.84,217.68 66.56,217.84 67.27,217.6 67.98,217.54 68.7,217.4 69.41,217.26 70.13,217.19 70.84,217.19 71.56,217.26 72.27,217.37 72.98,217.76 73.7,218.03 74.41,218.35 75.13,218.56 75.84,218.8 76.56,218.86 77.27,218.76 77.98,218.68 78.7,218.53 79.41,218.59 80.13,218.79 80.84,219.03 81.55,219.19 82.27,219.35 82.98,219.31 83.7,219.49 84.41,219.59 85.13,219.78 85.84,219.8 86.55,219.9 87.27,220.17 87.98,220.42 88.7,220.61 89.41,220.77 90.13,220.92 90.84,220.94 91.55,220.85 92.27,220.68 92.98,220.8 93.7,220.91 94.41,221.09 95.13,221.09 95.84,221.22 96.55,221.31 97.27,221.38 97.98,221.49 98.7,221.63 99.41,221.67 100.13,221.8 100.84,221.86 101.55,221.91 102.27,221.89 102.98,222.04 103.7,222.17 104.41,222.31 105.12,222.36 105.84,222.48 106.55,222.57 107.27,222.69 107.98,222.76 108.7,222.78 109.41,222.77 110.12,222.8 110.84,222.77 111.55,222.74 112.27,222.73 112.98,222.71 113.7,222.75 114.41,222.84 115.12,222.86 115.84,222.91 116.55,222.93 117.27,223.09 117.98,223.17 118.7,223.25 119.41,223.31 120.12,223.4 120.84,223.38 121.55,223.39 122.27,223.23 122.98,223.27 123.7,223.2 124.41,223.13 125.12,223.01 125.84,222.95 126.55,222.95 127.27,222.97 127.98,222.95 128.7,223.12 129.41,223.16 130.12,223.28 130.84,223.23 131.55,223.22 132.27,223.23 132.98,223.16 133.69,223.2 134.41,223.25 135.12,223.45 135.84,223.41 136.55,223.4 137.27,223.39 137.98,223.52 138.69,223.58 139.41,223.49 140.12,223.47 140.84,223.35 141.55,223.43 142.27,223.56 142.98,223.65 143.69,223.72 144.41,223.67 145.12,223.66 145.84,223.65 146.55,223.55 147.27,223.56 147.98,223.53 148.69,223.53 149.41,223.58 150.12,223.54 150.84,223.58 151.55,223.59 152.27,223.63 152.98,223.61 153.69,223.57 154.41,223.53 155.12,223.59 155.84,223.63 156.55,223.83 157.27,223.93 157.98,224.02 158.69,224.03 159.41,224.02 160.12,224 160.84,223.87 161.55,223.84 162.26,223.79 162.98,223.79 163.69,223.78 164.41,223.91 165.12,224 165.84,223.99 166.55,223.96 167.26,223.95 167.98,223.99 168.69,223.97 169.41,224 170.12,223.99 170.84,223.98 171.55,223.94 172.26,223.91 172.98,223.93 173.69,224.03 174.41,224.15 175.12,224.24 175.84,224.33 176.55,224.36 177.26,224.37 177.98,224.27 178.69,224.23 179.41,224.2 180.12,224.25 180.84,224.25 181.55,224.27 182.26,224.33 182.98,224.37 183.69,224.43 184.41,224.3 185.12,224.33 185.84,224.33 186.55,224.44 187.26,224.48 187.98,224.51 188.69,224.5 189.41,224.53 190.12,224.53 190.83,224.55 191.55,224.59 192.26,224.55 192.98,224.56 193.69,224.48 194.41,224.58 195.12,224.59 195.83,224.63 196.55,224.64 197.26,224.59 197.98,224.58 198.69,224.55 199.41,224.62 200.12,224.61 200.83,224.58 201.55,224.61 202.26,224.64 202.98,224.67 203.69,224.76 204.41,224.82 205.12,224.89 205.83,224.82 206.55,224.74 207.26,224.68 207.98,224.73 208.69,224.8 209.41,224.78 210.12,224.8 210.83,224.86 211.55,224.77 212.26,224.76 212.98,224.82 213.69,224.54 214.41,224.77 215.12,224.76 215.83,224.83 216.55,225.04 217.26,225 217.98,224.96 218.69,224.93 219.41,224.87 220.12,224.8 220.83,224.8 221.55,224.87 222.26,224.83 222.98,224.79 223.69,224.7 224.4,224.68 225.12,224.68 225.83,224.73 226.55,224.78 227.26,224.8 227.98,224.85 228.69,224.92 229.4,224.93 230.12,224.98 230.83,225.03 231.55,225.13 232.26,225.19 232.98,225.12 233.69,225.17 234.4,225.11 235.12,225.12 235.83,225.08 236.55,225.04 237.26,225.03 237.98,225.01 238.69,225.02 239.4,225.1 240.12,225.04 240.83,225.05 241.55,225.02 242.26,225.03 242.98,225.05 243.69,225.02 244.4,225.04 245.12,225.08 245.83,225.1 246.55,225.09 247.26,225.12 247.98,225.12 248.69,225.17 249.4,225.13 250.12,225.23 250.83,225.23 251.55,225.24 252.26,225.22 252.97,225.23 253.69,225.31 254.4,225.24 255.12,225.28 255.83,225.26 256.55,225.31 257.26,225.28 257.97,225.17 258.69,225.17 259.4,225.15 260.12,225.24 260.83,225.18 261.55,225.21 262.26,225.14 262.97,225.27 263.69,225.26 264.4,225.36 265.12,225.29 265.83,225.29 266.55,225.31 267.26,225.39 267.97,225.47 268.69,225.48 269.4,225.47 270.12,225.46 270.83,225.45 271.55,225.42 272.26,225.37 272.97,225.37 273.69,225.42 274.4,225.47 275.12,225.46 275.83,225.47 276.55,225.45 277.26,225.41 277.97,225.37 278.69,225.41 279.4,225.38 280.12,225.35 280.83,225.36 281.54,225.42 282.26,225.42 282.97,225.41 283.69,225.38 284.4,225.41 285.12,225.41 285.83,225.45 286.54,225.53 287.26,225.56 287.97,225.65 288.69,225.55 289.4,225.5 290.12,225.41 290.83,225.5 291.54,225.55 292.26,225.57 292.97,225.56 293.69,225.57 294.4,225.65 295.12,225.66 295.83,225.7 296.54,225.7 297.26,225.73 297.97,225.68 298.69,225.59 299.4,225.58 300.12,225.52 300.83,225.5 301.54,225.48 302.26,225.57 302.97,225.63 303.69,225.59 304.4,225.58 305.12,225.6 305.83,225.62 306.54,225.68 307.26,225.66 307.97,225.66 308.69,225.62 309.4,225.65 310.11,225.7 310.83,225.71 311.54,225.73 312.26,225.77 312.97,225.8 313.69,225.81 314.4,225.75 315.11,225.7 315.83,225.7 316.54,225.79 317.26,225.87 317.97,225.88 318.69,225.79 319.4,225.74" fill="none" stroke="#f800f0" stroke-width="0.75" stroke-linejoin="round" />
<polyline points="33.7,82.9 34.41,123.71 35.13,140.93 35.84,148.56 36.56,154.77 37.27,160.85 37.99,165.99 38.7,170.49 39.41,176.12 40.13,182.26 40.84,188.58 41.56,194.2 42.27,199.04 42.99,203.12 43.7,206.47 44.41,208.89 45.13,210.56 45.84,211.78 46.56,212.88 47.27,213.87 47.98,214.55 48.7,215.33 49.41,216.01 50.13,216.67 50.84,216.94 51.56,217.08 52.27,217.37 52.98,217.88 53.7,218.36 54.41,218.94 55.13,219.36 55.84,219.81 56.56,219.92 57.27,219.95 57.98,219.95 58.7,220.08 59.41,220.42 60.13,220.82 60.84,221.2 61.56,221.65 62.27,221.98 62.98,222.3 63.7,222.39 64.41,222.55 65.13,222.61 65.84,222.67 66.56,222.63 67.27,222.64 67.98,222.52 68.7,222.36 69.41,222.26 70.13,222.31 70.84,222.6 71.56,222.76 72.27,223.03 72.98,223.12 73.7,223.32 74.41,223.41 75.13,223.44 75.84,223.49 76.56,223.51 77.27,223.66 77.98,223.83 78.7,224.04 79.41,224.17 80.13,224.21 80.84,224.16 81.55,224.15 82.27,224.13 82.98,224.16 83.7,224.19 84.41,224.18 85.13,224.14 85.84,224.2 86.55,224.18 87.27,224.27 87.98,224.2 88.7,224.21 89.41,224.21 90.13,224.27 90.84,224.31 91.55,224.32 92.27,224.39 92.98,224.58 93.7,224.63 94.41,224.72 95.13,224.74 95.84,224.72 96.55,224.63 97.27,224.53 97.98,224.5 98.7,224.5 99.41,224.46 100.13,224.5 100.84,224.57 101.55,224.58 102.27,224.63 102.98,224.69 103.7,224.83 104.41,224.9 105.12,224.97 105.84,225.02 106.55,225.07 107.27,225.06 107.98,225.1 108.7,225.03 109.41,224.93 110.12,224.79 110.84,224.76 111.55,224.83 112.27,224.9 112.98,224.97 113.7,225.03 114.41,225 115.12,224.95 115.84,224.85 116.55,224.79 117.27,224.78 117.98,224.83 118.7,224.86 119.41,224.9 120.12,224.89 120.84,224.99 121.55,225.04 122.27,225.14 122.98,225.27 123.7,225.38 124.41,225.41 125.12,225.41 125.84,225.39 126.55,225.34 127.27,225.24 127.98,225.12 128.7,224.98 129.41,224.83 130.12,224.76 130.84,224.76 131.55,224.82 132.27,224.89 132.98,225.03 133.69,225.14 134.41,225.26 135.12,225.3 135.84,225.36 136.55,225.37 137.27,225.33 137.98,225.31 138.69,225.23 139.41,225.21 140.12,225.16 140.84,225.19 141.55,225.19 142.27,225.24 142.98,225.29 143.69,225.41 144.41,225.5 145.12,225.59 145.84,225.52 146.55,225.54 147.27,225.49 147.98,225.51 148.69,225.48 149.41,225.44 150.12,225.42 150.84,225.37 151.55,225.35 152.27,225.42 152.98,225.54 153.69,225.67 154.41,225.78 155.12,225.85 155.84,225.93 156.55,225.83 157.27,225.77 157.98,225.68 158.69,225.75 159.41,225.72 160.12,225.73 160.84,225.72 161.55,225.75 162.26,225.75 162.98,225.7 163.69,225.58 164.41,225.42 165.12,225.34 165.84,225.31 166.55,225.41 167.26,225.5 167.98,225.66 168.69,225.71 169.41,225.8 170.12,225.78 170.84,225.73 171.55,225.67 172.26,225.64 172.98,225.74 173.69,225.83 174.41,225.91 175.12,225.94 175.84,225.87 176.55,225.79 177.26,225.79 177.98,225.84 178.69,225.9 179.41,225.88 180.12,225.91 180.84,225.91 181.55,225.9 182.26,225.88 182.98,225.94 183.69,225.98 184.41,226.05 185.12,225.97 185.84,225.99 186.55,225.94 187.26,226.01 187.98,226.05 188.69,226.14 189.41,226.26 190.12,226.26 190.83,226.25 191.55,226.2 192.26,226.17 192.98,226.15 193.69,226.1 194.41,226.11 195.12,226.03 195.83,226 196.55,225.97 197.26,226.02 197.98,226.05 198.69,226.06 199.41,226.17 200.12,226.21 200.83,226.29 201.55,226.25 202.26,226.32 202.98,226.28 203.69,226.27 204.41,226.19 205.12,226.2 205.83,226.19 206.55,226.17 207.26,226.2 207.98,226.18 208.69,226.21 209.41,226.19 210.12,226.32 210.83,226.36 211.55,226.32 212.26,226.29 212.98,226.25 213.69,226.32 214.41,226.25 215.12,226.11 215.83,226.16 216.55,226.35 217.26,226.25 217.98,226.2 218.69,226.18 219.41,226.26 220.12,226.29 220.83,226.27 221.55,226.28 222.26,226.27 222.98,226.43 223.69,226.47 224.4,226.52 225.12,226.4 225.83,226.42 226.55,226.51 227.26,226.54 227.98,226.55 228.69,226.54 229.4,226.57 230.12,226.53 230.83,226.46 231.55,226.45 232.26,226.54 232.98,226.53 233.69,226.61 234.4,226.59 235.12,226.7 235.83,226.62 236.55,226.6 237.26,226.52 237.98,226.55 238.69,226.55 239.4,226.58 240.12,226.64 240.83,226.63 241.55,226.63 242.26,226.6 242.98,226.64 243.69,226.66 244.4,226.6 245.12,226.58 245.83,226.57 246.55,226.63 247.26,226.69 247.98,226.73 248.69,226.72 249.4,226.7 250.12,226.69 250.83,226.67 251.55,226.65 252.26,226.65 252.97,226.66 253.69,226.69 254.4,226.73 255.12,226.75 255.83,226.82 256.55,226.8 257.26,226.86 257.97,226.8 258.69,226.85 259.4,226.8 260.12,226.85 260.83,226.9 261.55,226.91 262.26,226.9 262.97,226.85 263.69,226.84 264.4,226.78 265.12,226.72 265.83,226.69 266.55,226.76 267.26,226.82 267.97,226.85 268.69,226.8 269.4,226.81 270.12,226.84 270.83,226.87 271.55,226.9 272.26,226.9 272.97,226.93 273.69,226.98 274.4,226.96 275.12,226.97 275.83,226.97 276.55,227.04 277.26,227.05 277.97,227 278.69,226.96 279.4,226.97 280.12,227 280.83,227.04 281.54,227.09 282.26,227.15 282.97,227.15 283.69,227.12 284.4,227.13 285.12,227.11 285.83,227.11 286.54,227.12 287.26,227.15 287.97,227.14 288.69,227.11 289.4,227.09 290.12,227.1 290.83,227.23 291.54,227.3 292.26,227.34 292.97,227.25 293.69,227.26 294.4,227.2 295.12,227.18 295.83,227.14 296.54,227.18 297.26,227.22 297.97,227.24 298.69,227.24 299.4,227.25 300.12,227.26 300.83,227.28 301.54,227.25 302.26,227.24 302.97,227.2 303.69,227.25 304.4,227.21 305.12,227.23 305.83,227.23 306.54,227.26 307.26,227.24 307.97,227.21 308.69,227.22 309.4,227.24 310.11,227.19 310.83,227.2 311.54,227.21 312.26,227.27 312.97,227.26 313.69,227.3 314.4,227.33 315.11,227.31 315.83,227.29 316.54,227.3 317.26,227.29 317.97,227.34 318.69,227.3 319.4,227.35" fill="none" stroke="#80b4f0" stroke-width="0.75" stroke-linejoin="round" />
<polyline points="33.7,79.16 34.41,133.58 35.13,149.31 35.84,155.18 36.56,159.72 37.27,165.36 37.99,169.77 38.7,174.06 39.41,176.33 40.13,179.2 40.84,182.23 41.56,185.64 42.27,188.9 42.99,192.14 43.7,195.3 44.41,198.44 45.13,201.04 45.84,203.75 46.56,206.03 47.27,207.99 47.98,209.45 48.7,210.2 49.41,210.73 50.13,210.99 50.84,211.57 51.56,212.25 52.27,213.11 52.98,213.76 53.7,214.27 54.41,214.88 55.13,215.53 55.84,216.12 56.56,216.79 57.27,217.47 57.98,218.14 58.7,218.33 59.41,218.53 60.13,218.67 60.84,218.95 61.56,218.96 62.27,218.84 62.98,218.81 63.7,219 64.41,219.31 65.13,219.7 65.84,219.97 66.56,220.22 67.27,220.39 67.98,220.58 68.7,220.73 69.41,220.87 70.13,221.08 70.84,221.34 71.56,221.55 72.27,221.73 72.98,221.81 73.7,221.72 74.41,221.53 75.13,221.4 75.84,221.5 76.56,221.58 77.27,221.7 77.98,221.77 78.7,221.92 79.41,222.01 80.13,222 80.84,222.15 81.55,222.23 82.27,222.4 82.98,222.37 83.7,222.29 84.41,222.17 85.13,222.15 85.84,222.2 86.55,222.27 87.27,222.39 87.98,222.51 88.7,222.76 89.41,222.91 90.13,223.14 90.84,223.21 91.55,223.32 92.27,223.4 92.98,223.41 93.7,223.4 94.41,223.36 95.13,223.44 95.84,223.31 96.55,223.24 97.27,223.14 97.98,223.21 98.7,223.28 99.41,223.4 100.13,223.51 100.84,223.53 101.55,223.48 102.27,223.31 102.98,223.29 103.7,223.24 104.41,223.27 105.12,223.08 105.84,223.03 106.55,222.88 107.27,222.86 107.98,222.85 108.7,222.92 109.41,223.2 110.12,223.36 110.84,223.61 111.55,223.61 112.27,223.66 112.98,223.67 113.7,223.67 114.41,223.67 115.12,223.65 115.84,223.71 116.55,223.77 117.27,223.76 117.98,223.67 118.7,223.68 119.41,223.69 120.12,223.83 120.84,223.77 121.55,223.74 122.27,223.7 122.98,223.77 123.7,223.77 124.41,223.7 125.12,223.65 125.84,223.66 126.55,223.79 127.27,223.88 127.98,223.9 128.7,223.88 129.41,223.84 130.12,223.87 130.84,223.86 131.55,223.85 132.27,223.83 132.98,223.87 133.69,223.94 134.41,223.92 135.12,223.87 135.84,223.73 136.55,223.65 137.27,223.61 137.98,223.55 138.69,223.58 139.41,223.66 140.12,223.88 140.84,224.09 141.55,224.15 142.27,224.14 142.98,224.14 143.69,224.15 144.41,224.07 145.12,223.97 145.84,223.88 146.55,223.88 147.27,223.88 147.98,223.91 148.69,223.89 149.41,223.99 150.12,224.01 150.84,224.07 151.55,223.92 152.27,223.83 152.98,223.71 153.69,223.77 154.41,223.91 155.12,224 155.84,224.1 156.55,224.09 157.27,224.17 157.98,224.17 158.69,224.13 159.41,223.99 160.12,223.97 160.84,223.92 161.55,223.92 162.26,224.03 162.98,224.21 163.69,224.46 164.41,224.5 165.12,224.57 165.84,224.56 166.55,224.51 167.26,224.44 167.98,224.4 168.69,224.44 169.41,224.49 170.12,224.52 170.84,224.53 171.55,224.56 172.26,224.54 172.98,224.58 173.69,224.5 174.41,224.4 175.12,224.29 175.84,224.32 176.55,224.3 177.26,224.3 177.98,224.37 178.69,224.46 179.41,224.47 180.12,224.41 180.84,224.41 181.55,224.46 182.26,224.48 182.98,224.58 183.69,224.61 184.41,224.59 185.12,224.49 185.84,224.52 186.55,224.59 187.26,224.66 187.98,224.74 188.69,224.82 189.41,224.84 190.12,224.72 190.83,224.61 191.55,224.65 192.26,224.64 192.98,224.71 193.69,224.66 194.41,224.75 195.12,224.79 195.83,224.88 196.55,224.96 197.26,224.95 197.98,224.92 198.69,224.86 199.41,224.81 200.12,224.85 200.83,224.81 201.55,224.82 202.26,224.82 202.98,224.86 203.69,224.91 204.41,224.91 205.12,224.93 205.83,224.89 206.55,224.9 207.26,224.9 207.98,225 208.69,224.99 209.41,224.97 210.12,225.07 210.83,225.07 211.55,224.86 212.26,224.95 212.98,224.98 213.69,225.15 214.41,224.95 215.12,225.14 215.83,225.09 216.55,225.13 217.26,225.25 217.98,225.24 218.69,225.39 219.41,225.36 220.12,225.43 220.83,225.37 221.55,225.34 222.26,225.25 222.98,225.16 223.69,225.02 224.4,224.97 225.12,224.93 225.83,224.99 226.55,224.99 227.26,224.98 227.98,225.11 228.69,225.18 229.4,225.36 230.12,225.34 230.83,225.35 231.55,225.19 232.26,225.18 232.98,225.12 233.69,225.2 234.4,225.21 235.12,225.25 235.83,225.24 236.55,225.23 237.26,225.24 237.98,225.29 238.69,225.36 239.4,225.4 240.12,225.41 240.83,225.33 241.55,225.33 242.26,225.34 242.98,225.37 243.69,225.36 244.4,225.35 245.12,225.37 245.83,225.4 246.55,225.49 247.26,225.54 247.98,225.54 248.69,225.55 249.4,225.52 250.12,225.58 250.83,225.59 251.55,225.6 252.26,225.62 252.97,225.61 253.69,225.63 254.4,225.59 255.12,225.45 255.83,225.5 256.55,225.5 257.26,225.61 257.97,225.52 258.69,225.54 259.4,225.62 260.12,225.61 260.83,225.64 261.55,225.55 262.26,225.63 262.97,225.62 263.69,225.62 264.4,225.54 265.12,225.49 265.83,225.52 266.55,225.57 267.26,225.66 267.97,225.68 268.69,225.73 269.4,225.73 270.12,225.78 270.83,225.79 271.55,225.8 272.26,225.74 272.97,225.74 273.69,225.66 274.4,225.68 275.12,225.64 275.83,225.72 276.55,225.71 277.26,225.85 277.97,225.81 278.69,225.86 279.4,225.8 280.12,225.83 280.83,225.72 281.54,225.64 282.26,225.69 282.97,225.79 283.69,225.8 284.4,225.85 285.12,225.88 285.83,225.95 286.54,225.85 287.26,225.85 287.97,225.8 288.69,225.89 289.4,225.9 290.12,225.91 290.83,225.88 291.54,225.93 292.26,225.96 292.97,225.97 293.69,225.93 294.4,225.95 295.12,225.95 295.83,225.95 296.54,225.98 297.26,226.02 297.97,226.02 298.69,226.04 299.4,226 300.12,226.03 300.83,225.97 301.54,225.97 302.26,225.98 302.97,225.99 303.69,225.97 304.4,225.94 305.12,226.03 305.83,226.07 306.54,226.12 307.26,226.08 307.97,226.15 308.69,226.16 309.4,226.1 310.11,226.05 310.83,226.05 311.54,226.1 312.26,226.12 312.97,226.08 313.69,226.01 314.4,226.03 315.11,226.04 315.83,226.1 316.54,226.08 317.26,226.05 317.97,226.02 318.69,226.04 319.4,226.06" fill="none" stroke="#d830a8" stroke-width="0.75" stroke-linejoin="round" />
<polyline points="33.7,82.9 34.41,134.95 35.13,152.47 35.84,160.12 36.56,164.41 37.27,169 37.99,171.51 38.7,174.43 39.41,177.79 40.13,182.5 40.84,187.59 41.56,192.5 42.27,196.69 42.99,200.18 43.7,203.05 44.41,205.41 45.13,207.75 45.84,209.87 46.56,211.82 47.27,213.26 47.98,214.53 48.7,215.37 49.41,216.21 50.13,216.58 50.84,216.85 51.56,217.14 52.27,217.38 52.98,217.69 53.7,217.79 54.41,218.15 55.13,218.52 55.84,219.01 56.56,219.4 57.27,219.77 57.98,220.09 58.7,220.45 59.41,220.71 60.13,220.82 60.84,220.86 61.56,220.86 62.27,220.8 62.98,220.8 63.7,220.91 64.41,220.87 65.13,220.76 65.84,220.82 66.56,221.1 67.27,221.45 67.98,221.7 68.7,222.03 69.41,222.33 70.13,222.64 70.84,222.81 71.56,222.88 72.27,222.86 72.98,222.79 73.7,222.78 74.41,222.77 75.13,222.94 75.84,223.04 76.56,223.23 77.27,223.25 77.98,223.45 78.7,223.49 79.41,223.55 80.13,223.59 80.84,223.69 81.55,223.91 82.27,223.9 82.98,223.88 83.7,223.73 84.41,223.64 85.13,223.53 85.84,223.44 86.55,223.52 87.27,223.77 87.98,224.07 88.7,224.27 89.41,224.42 90.13,224.61 90.84,224.74 91.55,224.8 92.27,224.78 92.98,224.88 93.7,224.94 94.41,224.95 95.13,224.89 95.84,224.83 96.55,224.79 97.27,224.83 97.98,224.89 98.7,225.04 99.41,225.11 100.13,225.17 100.84,225.24 101.55,225.3 102.27,225.22 102.98,225.14 103.7,225.04 104.41,225.12 105.12,225.17 105.84,225.22 106.55,225.2 107.27,225.23 107.98,225.18 108.7,225.21 109.41,225.15 110.12,225.12 110.84,225.14 111.55,225.16 112.27,225.33 112.98,225.36 113.7,225.42 114.41,225.37 115.12,225.39 115.84,225.38 116.55,225.34 117.27,225.34 117.98,225.35 118.7,225.38 119.41,225.43 120.12,225.53 120.84,225.68 121.55,225.73 122.27,225.79 122.98,225.82 123.7,225.88 124.41,225.85 125.12,225.89 125.84,225.95 126.55,225.98 127.27,225.93 127.98,225.81 128.7,225.83 129.41,225.78 130.12,225.78 130.84,225.74 131.55,225.83 132.27,225.83 132.98,225.83 133.69,225.74 134.41,225.76 135.12,225.8 135.84,225.84 136.55,225.86 137.27,225.81 137.98,225.86 138.69,225.84 139.41,225.88 140.12,225.88 140.84,225.93 141.55,225.98 142.27,226 142.98,226.02 143.69,225.98 144.41,225.96 145.12,225.96 145.84,225.91 146.55,225.81 147.27,225.74 147.98,225.76 148.69,225.87 149.41,225.99 150.12,226.15 150.84,226.22 151.55,226.24 152.27,226.22 152.98,226.24 153.69,226.27 154.41,226.3 155.12,226.31 155.84,226.32 156.55,226.29 157.27,226.3 157.98,226.3 158.69,226.27 159.41,226.23 160.12,226.26 160.84,226.27 161.55,226.32 162.26,226.19 162.98,226.18 163.69,226.12 164.41,226.24 165.12,226.35 165.84,226.44 166.55,226.48 167.26,226.51 167.98,226.52 168.69,226.49 169.41,226.41 170.12,226.39 170.84,226.42 171.55,226.41 172.26,226.42 172.98,226.39 173.69,226.39 174.41,226.37 175.12,226.38 175.84,226.38 176.55,226.35 177.26,226.31 177.98,226.31 178.69,226.35 179.41,226.39 180.12,226.47 180.84,226.56 181.55,226.57 182.26,226.55 182.98,226.48 183.69,226.46 184.41,226.38 185.12,226.35 185.84,226.38 186.55,226.4 187.26,226.47 187.98,226.42 188.69,226.48 189.41,226.51 190.12,226.56 190.83,226.61 191.55,226.61 192.26,226.62 192.98,226.6 193.69,226.6 194.41,226.66 195.12,226.67 195.83,226.74 196.55,226.72 197.26,226.74 197.98,226.71 198.69,226.75 199.41,226.69 200.12,226.71 200.83,226.68 201.55,226.78 202.26,226.73 202.98,226.75 203.69,226.71 204.41,226.8 205.12,226.81 205.83,226.86 206.55,226.82 207.26,226.83 207.98,226.82 208.69,226.82 209.41,226.84 210.12,226.79 210.83,226.9 211.55,226.86 212.26,226.92 212.98,226.88 213.69,226.86 214.41,226.92 215.12,226.82 215.83,226.9 216.55,226.93 217.26,226.95 217.98,226.93 218.69,226.93 219.41,226.97 220.12,227 220.83,227.02 221.55,227 222.26,226.99 222.98,226.99 223.69,226.99 224.4,227.01 225.12,227.03 225.83,227.09 226.55,227.06 227.26,227.13 227.98,227.15 228.69,227.22 229.4,227.17 230.12,227.1 230.83,227.05 231.55,227 232.26,227.06 232.98,227.07 233.69,227.1 234.4,227.07 235.12,227.08 235.83,227.07 236.55,227.05 237.26,227.01 237.98,226.97 238.69,226.99 239.4,227.09 240.12,227.1 240.83,227.1 241.55,227.08 242.26,227.14 242.98,227.18 243.69,227.22 244.4,227.22 245.12,227.28 245.83,227.3 246.55,227.33 247.26,227.35 247.98,227.34 248.69,227.34 249.4,227.34 250.12,227.33 250.83,227.37 251.55,227.34 252.26,227.36 252.97,227.37 253.69,227.39 254.4,227.43 255.12,227.42 255.83,227.41 256.55,227.3 257.26,227.24 257.97,227.23 258.69,227.25 259.4,227.27 260.12,227.25 260.83,227.28 261.55,227.28 262.26,227.3 262.97,227.32 263.69,227.35 264.4,227.37 265.12,227.38 265.83,227.4 266.55,227.4 267.26,227.43 267.97,227.42 268.69,227.38 269.4,227.35 270.12,227.38 270.83,227.4 271.55,227.42 272.26,227.42 272.97,227.44 273.69,227.49 274.4,227.53 275.12,227.58 275.83,227.58 276.55,227.52 277.26,227.47 277.97,227.48 278.69,227.52 279.4,227.56 280.12,227.51 280.83,227.54 281.54,227.54 282.26,227.57 282.97,227.56 283.69,227.55 284.4,227.55 285.12,227.55 285.83,227.54 286.54,227.56 287.26,227.56 287.97,227.59 288.69,227.59 289.4,227.59 290.12,227.63 290.83,227.64 291.54,227.68 292.26,227.65 292.97,227.66 293.69,227.66 294.4,227.68 295.12,227.72 295.83,227.74 296.54,227.79 297.26,227.77 297.97,227.79 298.69,227.75 299.4,227.73 300.12,227.69 300.83,227.71 301.54,227.74 302.26,227.81 302.97,227.83 303.69,227.8 304.4,227.79 305.12,227.82 305.83,227.86 306.54,227.87 307.26,227.86 307.97,227.89 308.69,227.96 309.4,227.97 310.11,227.94 310.83,227.87 311.54,227.91 312.26,227.93 312.97,227.98 313.69,227.9 314.4,227.9 315.11,227.9 315.83,227.93 316.54,227.96 317.26,227.93 317.97,227.95 318.69,227.96 319.4,227.98" fill="none" stroke="#606060" stroke-width="0.75" stroke-linejoin="round" />
<polyline points="33.7,82.9 34.41,142.3 35.13,158.92 35.84,164.74 36.56,169.39 37.27,172.84 37.99,174.97 38.7,175.35 39.41,176.15 40.13,178.11 40.84,181.83 41.56,186.71 42.27,191.83 42.99,196.8 43.7,201.23 44.41,205.3 45.13,208.31 45.84,210.34 46.56,211.52 47.27,212.42 47.98,213.12 48.7,213.48 49.41,213.97 50.13,214.58 50.84,215.58 51.56,216.23 52.27,216.8 52.98,216.91 53.7,217.16 54.41,217.14 55.13,217.19 55.84,217.08 56.56,217.43 57.27,217.79 57.98,218.4 58.7,218.8 59.41,219.26 60.13,219.51 60.84,219.67 61.56,219.95 62.27,220.12 62.98,220.46 63.7,220.89 64.41,221.47 65.13,221.8 65.84,222.03 66.56,222.21 67.27,222.26 67.98,222.26 68.7,222.19 69.41,222.26 70.13,222.19 70.84,222.13 71.56,222.05 72.27,222.04 72.98,222.05 73.7,222.07 74.41,222.07 75.13,222.09 75.84,222.19 76.56,222.31 77.27,222.43 77.98,222.61 78.7,222.74 79.41,222.95 80.13,223.12 80.84,223.31 81.55,223.43 82.27,223.45 82.98,223.42 83.7,223.35 84.41,223.31 85.13,223.21 85.84,223.16 86.55,223.17 87.27,223.28 87.98,223.44 88.7,223.64 89.41,223.9 90.13,224.04 90.84,224.18 91.55,224.27 92.27,224.46 92.98,224.48 93.7,224.39 94.41,224.3 95.13,224.23 95.84,224.26 96.55,224.3 97.27,224.38 97.98,224.53 98.7,224.63 99.41,224.81 100.13,224.78 100.84,224.81 101.55,224.76 102.27,224.76 102.98,224.73 103.7,224.69 104.41,224.77 105.12,224.76 105.84,224.76 106.55,224.68 107.27,224.63 107.98,224.58 108.7,224.56 109.41,224.54 110.12,224.57 110.84,224.6 111.55,224.65 112.27,224.67 112.98,224.79 113.7,224.83 114.41,224.94 115.12,224.97 115.84,225.04 116.55,225.07 117.27,225.15 117.98,225.19 118.7,225.08 119.41,225.02 120.12,224.97 120.84,225 121.55,224.97 122.27,224.92 122.98,225.01 123.7,225.1 124.41,225.05 125.12,225.03 125.84,225.02 126.55,225.12 127.27,225.07 127.98,225.1 128.7,225.09 129.41,225.14 130.12,225.1 130.84,225.13 131.55,225.19 132.27,225.29 132.98,225.44 133.69,225.47 134.41,225.56 135.12,225.54 135.84,225.53 136.55,225.44 137.27,225.32 137.98,225.28 138.69,225.13 139.41,225.08 140.12,225.05 140.84,225.01 141.55,224.99 142.27,224.98 142.98,224.99 143.69,224.93 144.41,224.9 145.12,224.87 145.84,224.91 146.55,224.87 147.27,224.99 147.98,225.05 148.69,225.24 149.41,225.3 150.12,225.4 150.84,225.4 151.55,225.46 152.27,225.5 152.98,225.56 153.69,225.57 154.41,225.56 155.12,225.52 155.84,225.5 156.55,225.5 157.27,225.51 157.98,225.6 158.69,225.64 159.41,225.67 160.12,225.6 160.84,225.53 161.55,225.48 162.26,225.48 162.98,225.55 163.69,225.58 164.41,225.65 165.12,225.71 165.84,225.76 166.55,225.74 167.26,225.66 167.98,225.62 168.69,225.54 169.41,225.53 170.12,225.53 170.84,225.52 171.55,225.59 172.26,225.57 172.98,225.58 173.69,225.55 174.41,225.62 175.12,225.67 175.84,225.73 176.55,225.75 177.26,225.76 177.98,225.76 178.69,225.75 179.41,225.76 180.12,225.72 180.84,225.68 181.55,225.65 182.26,225.61 182.98,225.67 183.69,225.71 184.41,225.76 185.12,225.75 185.84,225.75 186.55,225.81 187.26,225.8 187.98,225.8 188.69,225.76 189.41,225.78 190.12,225.85 190.83,225.91 191.55,225.94 192.26,225.91 192.98,226.02 193.69,226.08 194.41,226.23 195.12,226.17 195.83,226.19 196.55,226.13 197.26,226.12 197.98,226.11 198.69,226.13 199.41,226.12 200.12,226.06 200.83,226.01 201.55,225.98 202.26,226.03 202.98,225.98 203.69,225.98 204.41,225.96 205.12,225.99 205.83,226 206.55,226 207.26,225.98 207.98,225.98 208.69,225.99 209.41,226.03 210.12,226.14 210.83,226.08 211.55,225.99 212.26,226.07 212.98,226.11 213.69,226.32 214.41,226.35 215.12,226.26 215.83,226.44 216.55,226.29 217.26,226.31 217.98,226.37 218.69,226.41 219.41,226.42 220.12,226.36 220.83,226.34 221.55,226.35 222.26,226.38 222.98,226.43 223.69,226.5 224.4,226.54 225.12,226.53 225.83,226.5 226.55,226.44 227.26,226.46 227.98,226.5 228.69,226.5 229.4,226.44 230.12,226.41 230.83,226.48 231.55,226.51 232.26,226.47 232.98,226.46 233.69,226.49 234.4,226.55 235.12,226.57 235.83,226.63 236.55,226.64 237.26,226.64 237.98,226.64 238.69,226.72 239.4,226.67 240.12,226.68 240.83,226.61 241.55,226.67 242.26,226.61 242.98,226.61 243.69,226.54 244.4,226.53 245.12,226.46 245.83,226.5 246.55,226.53 247.26,226.58 247.98,226.5 248.69,226.52 249.4,226.5 250.12,226.58 250.83,226.55 251.55,226.57 252.26,226.6 252.97,226.64 253.69,226.69 254.4,226.73 255.12,226.73 255.83,226.76 256.55,226.71 257.26,226.69 257.97,226.64 258.69,226.63 259.4,226.63 260.12,226.65 260.83,226.69 261.55,226.8 262.26,226.84 262.97,226.88 263.69,226.84 264.4,226.89 265.12,226.89 265.83,226.87 266.55,226.8 267.26,226.79 267.97,226.77 268.69,226.73 269.4,226.64 270.12,226.61 270.83,226.63 271.55,226.69 272.26,226.75 272.97,226.77 273.69,226.79 274.4,226.78 275.12,226.79 275.83,226.8 276.55,226.82 277.26,226.84 277.97,226.86 278.69,226.95 279.4,226.96 280.12,226.98 280.83,226.97 281.54,227 282.26,227.01 282.97,227.03 283.69,226.98 284.4,226.99 285.12,226.94 285.83,226.93 286.54,226.92 287.26,226.92 287.97,226.97 288.69,226.91 289.4,226.89 290.12,226.89 290.83,226.89 291.54,226.88 292.26,226.92 292.97,226.97 293.69,227.04 294.4,227 295.12,227.02 295.83,227.05 296.54,227.14 297.26,227.21 297.97,227.21 298.69,227.2 299.4,227.16 300.12,227.16 300.83,227.2 301.54,227.25 302.26,227.23 302.97,227.18 303.69,227.19 304.4,227.25 305.12,227.29 305.83,227.26 306.54,227.26 307.26,227.19 307.97,227.18 308.69,227.11 309.4,227.19 310.11,227.18 310.83,227.17 311.54,227.18 312.26,227.16 312.97,227.18 313.69,227.12 314.4,227.19 315.11,227.17 315.83,227.16 316.54,227.14 317.26,227.22 317.97,227.29 318.69,227.31 319.4,227.31" fill="none" stroke="#780c90" stroke-width="0.75" stroke-linejoin="round" />
<polyline points="33.7,78.42 34.41,134.16 35.13,154.38 35.84,163.93 36.56,170.54 37.27,175.43 37.99,179.29 38.7,182.72 39.41,186.04 40.13,189.76 40.84,194.08 41.56,198.75 42.27,202.07 42.99,204.96 43.7,207.31 44.41,209.78 45.13,212.04 45.84,214.03 46.56,215.86 47.27,217.27 47.98,218.55 48.7,219.23 49.41,219.77 50.13,219.9 50.84,220.25 51.56,220.37 52.27,220.55 52.98,220.77 53.7,221.17 54.41,221.59 55.13,221.95 55.84,222.35 56.56,222.81 57.27,223.19 57.98,223.41 58.7,223.35 59.41,223.28 60.13,223.12 60.84,222.97 61.56,222.69 62.27,222.62 62.98,222.69 63.7,222.95 64.41,223.2 65.13,223.37 65.84,223.51 66.56,223.5 67.27,223.64 67.98,223.73 68.7,223.89 69.41,223.89 70.13,223.93 70.84,223.9 71.56,223.93 72.27,223.99 72.98,223.99 73.7,223.92 74.41,223.72 75.13,223.62 75.84,223.5 76.56,223.51 77.27,223.53 77.98,223.65 78.7,223.87 79.41,224.16 80.13,224.42 80.84,224.61 81.55,224.77 82.27,224.94 82.98,225 83.7,225.06 84.41,225.09 85.13,225.14 85.84,225.13 86.55,225.18 87.27,225.23 87.98,225.37 88.7,225.49 89.41,225.62 90.13,225.57 90.84,225.65 91.55,225.68 92.27,225.79 92.98,225.87 93.7,225.95 94.41,226 95.13,225.96 95.84,225.93 96.55,225.89 97.27,225.79 97.98,225.71 98.7,225.71 99.41,225.76 100.13,225.83 100.84,225.79 101.55,225.76 102.27,225.73 102.98,225.76 103.7,225.81 104.41,225.85 105.12,225.95 105.84,226.04 106.55,226.12 107.27,226.12 107.98,226.12 108.7,226.12 109.41,226.18 110.12,226.24 110.84,226.23 111.55,226.3 112.27,226.25 112.98,226.28 113.7,226.19 114.41,226.21 115.12,226.22 115.84,226.28 116.55,226.34 117.27,226.38 117.98,226.44 118.7,226.42 119.41,226.41 120.12,226.49 120.84,226.59 121.55,226.66 122.27,226.58 122.98,226.56 123.7,226.58 124.41,226.58 125.12,226.58 125.84,226.58 126.55,226.64 127.27,226.67 127.98,226.77 128.7,226.74 129.41,226.74 130.12,226.58 130.84,226.45 131.55,226.36 132.27,226.43 132.98,226.51 133.69,226.55 134.41,226.55 135.12,226.56 135.84,226.59 136.55,226.73 137.27,226.77 137.98,226.85 138.69,226.81 139.41,226.8 140.12,226.77 140.84,226.76 141.55,226.8 142.27,226.76 142.98,226.68 143.69,226.59 144.41,226.59 145.12,226.64 145.84,226.66 146.55,226.71 147.27,226.72 147.98,226.81 148.69,226.82 149.41,226.89 150.12,226.89 150.84,226.9 151.55,226.9 152.27,226.9 152.98,226.9 153.69,226.89 154.41,226.9 155.12,226.9 155.84,226.9 156.55,226.89 157.27,226.82 157.98,226.8 158.69,226.8 159.41,226.84 160.12,226.82 160.84,226.82 161.55,226.83 162.26,226.86 162.98,226.88 163.69,226.93 164.41,226.98 165.12,227.1 165.84,227.2 166.55,227.31 167.26,227.26 167.98,227.19 168.69,227.08 169.41,227.07 170.12,227.05 170.84,227.08 171.55,227.08 172.26,227.16 172.98,227.18 173.69,227.2 174.41,227.14 175.12,227.08 175.84,227.08 176.55,227.11 177.26,227.15 177.98,227.18 178.69,227.26 179.41,227.32 180.12,227.37 180.84,227.36 181.55,227.36 182.26,227.33 182.98,227.31 183.69,227.29 184.41,227.3 185.12,227.29 185.84,227.37 186.55,227.38 187.26,227.44 187.98,227.44 188.69,227.49 189.41,227.48 190.12,227.46 190.83,227.39 191.55,227.39 192.26,227.38 192.98,227.41 193.69,227.4 194.41,227.38 195.12,227.38 195.83,227.39 196.55,227.38 197.26,227.36 197.98,227.37 198.69,227.41 199.41,227.44 200.12,227.48 200.83,227.52 201.55,227.49 202.26,227.47 202.98,227.42 203.69,227.5 204.41,227.51 205.12,227.57 205.83,227.51 206.55,227.58 207.26,227.62 207.98,227.68 208.69,227.62 209.41,227.62 210.12,227.47 210.83,227.59 211.55,227.56 212.26,227.64 212.98,227.56 213.69,227.63 214.41,227.56 215.12,227.56 215.83,227.59 216.55,227.57 217.26,227.58 217.98,227.57 218.69,227.63 219.41,227.64 220.12,227.62 220.83,227.69 221.55,227.71 222.26,227.76 222.98,227.77 223.69,227.79 224.4,227.8 225.12,227.77 225.83,227.77 226.55,227.76 227.26,227.78 227.98,227.73 228.69,227.69 229.4,227.65 230.12,227.67 230.83,227.68 231.55,227.71 232.26,227.71 232.98,227.74 233.69,227.82 234.4,227.84 235.12,227.87 235.83,227.87 236.55,227.88 237.26,227.84 237.98,227.81 238.69,227.8 239.4,227.84 240.12,227.85 240.83,227.88 241.55,227.88 242.26,227.83 242.98,227.79 243.69,227.79 244.4,227.81 245.12,227.85 245.83,227.88 246.55,227.93 247.26,227.97 247.98,228.01 248.69,228.01 249.4,228.03 250.12,227.97 250.83,228.02 251.55,227.97 252.26,227.99 252.97,227.97 253.69,228.03 254.4,228.05 255.12,228.05 255.83,228.04 256.55,228.04 257.26,228.02 257.97,228.01 258.69,228.01 259.4,228.06 260.12,228.06 260.83,228.08 261.55,228.03 262.26,228.05 262.97,228.07 263.69,228.12 264.4,228.17 265.12,228.17 265.83,228.22 266.55,228.21 267.26,228.21 267.97,228.19 268.69,228.14 269.4,228.18 270.12,228.18 270.83,228.22 271.55,228.2 272.26,228.25 272.97,228.22 273.69,228.22 274.4,228.21 275.12,228.25 275.83,228.27 276.55,228.21 277.26,228.19 277.97,228.18 278.69,228.21 279.4,228.22 280.12,228.22 280.83,228.24 281.54,228.25 282.26,228.26 282.97,228.3 283.69,228.3 284.4,228.32 285.12,228.28 285.83,228.28 286.54,228.29 287.26,228.31 287.97,228.31 288.69,228.33 289.4,228.36 290.12,228.37 290.83,228.36 291.54,228.35 292.26,228.37 292.97,228.42 293.69,228.43 294.4,228.41 295.12,228.38 295.83,228.38 296.54,228.41 297.26,228.47 297.97,228.49 298.69,228.49 299.4,228.44 300.12,228.41 300.83,228.41 301.54,228.42 302.26,228.49 302.97,228.5 303.69,228.53 304.4,228.51 305.12,228.54 305.83,228.56 306.54,228.57 307.26,228.6 307.97,228.6 308.69,228.61 309.4,228.62 310.11,228.66 310.83,228.67 311.54,228.65 312.26,228.6 312.97,228.59 313.69,228.6 314.4,228.59 315.11,228.58 315.83,228.57 316.54,228.6 317.26,228.66 317.97,228.66 318.69,228.64 319.4,228.64" fill="none" stroke="#00e400" stroke-width="0.75" stroke-linejoin="round" />
</g>
<path d="M69.41 232.3v-2.8M69.41 8.2v2.8M105.12 232.3v-2.8M105.12 8.2v2.8M140.84 232.3v-2.8M140.84 8.2v2.8M176.55 232.3v-2.8M176.55 8.2v2.8M212.26 232.3v-2.8M212.26 8.2v2.8M247.98 232.3v-2.8M247.98 8.2v2.8M283.69 232.3v-2.8M283.69 8.2v2.8M33.7 194.95h2.8M319.4 194.95h-2.8M33.7 157.6h2.8M319.4 157.6h-2.8M33.7 120.25h2.8M319.4 120.25h-2.8M33.7 82.9h2.8M319.4 82.9h-2.8M33.7 45.55h2.8M319.4 45.55h-2.8" stroke="#858585" stroke-width="0.8" fill="none"/>
<text x="33.7" y="244" font-size="8.6" text-anchor="middle" >0</text>
<text x="69.41" y="244" font-size="8.6" text-anchor="middle" >50</text>
<text x="105.12" y="244" font-size="8.6" text-anchor="middle" >100</text>
<text x="140.84" y="244" font-size="8.6" text-anchor="middle" >150</text>
<text x="176.55" y="244" font-size="8.6" text-anchor="middle" >200</text>
<text x="212.26" y="244" font-size="8.6" text-anchor="middle" >250</text>
<text x="247.98" y="244" font-size="8.6" text-anchor="middle" >300</text>
<text x="283.69" y="244" font-size="8.6" text-anchor="middle" >350</text>
<text x="319.4" y="244" font-size="8.6" text-anchor="middle" >400</text>
<text x="30.3" y="235.7" font-size="8.6" text-anchor="end" >0</text>
<text x="30.3" y="198.35" font-size="8.6" text-anchor="end" >0.05</text>
<text x="30.3" y="161" font-size="8.6" text-anchor="end" >0.1</text>
<text x="30.3" y="123.65" font-size="8.6" text-anchor="end" >0.15</text>
<text x="30.3" y="86.3" font-size="8.6" text-anchor="end" >0.2</text>
<text x="30.3" y="48.95" font-size="8.6" text-anchor="end" >0.25</text>
<text x="30.3" y="11.6" font-size="8.6" text-anchor="end" >0.3</text>
<text x="176.4" y="255.8" font-size="9.5" text-anchor="middle" >Epoch</text>
<text transform="translate(11,120.9) rotate(-90)" font-size="9.7" text-anchor="middle">Train-loss</text>
<text x="165.3" y="271.2" font-size="9" text-anchor="middle">(<tspan font-weight="bold">a</tspan>)</text>
<rect x="76.8" y="76.1" width="140" height="110.1" fill="#fff" stroke="none" stroke-width="0"/>
<clipPath id="cia"><rect x="76.8" y="76.1" width="140" height="110.1"/></clipPath>
<g clip-path="url(#cia)">
<polyline points="75.72,72.66 93.2,73.58 110.68,72.66 128.16,74.5 145.64,73.58 163.12,74.5 180.6,75.42 198.08,74.5 215.56,75.42" fill="none" stroke="#4a4a4a" stroke-width="0.6" stroke-linejoin="round" />
<polyline points="75.72,146.63 93.2,145.89 110.68,144.79 128.16,145.16 145.64,146.63 163.12,147.55 180.6,147 198.08,147 215.56,148.84" fill="none" stroke="#ff7a7a" stroke-width="0.6" stroke-linejoin="round" />
<polyline points="75.72,136.88 93.2,138.53 110.68,139.82 128.16,138.53 145.64,139.64 163.12,140.74 180.6,141.48 198.08,140.92 215.56,137.98" fill="none" stroke="#5a66ff" stroke-width="0.6" stroke-linejoin="round" />
<polyline points="75.72,151.6 93.2,149.94 110.68,151.96 128.16,153.25 145.64,155.46 163.12,154.17 180.6,156.01 198.08,152.7 215.56,150.49" fill="none" stroke="#4ff0f0" stroke-width="0.6" stroke-linejoin="round" />
<polyline points="75.72,152.7 93.2,151.6 110.68,154.91 128.16,152.33 145.64,154.36 163.12,154.17 180.6,158.96 198.08,153.8 215.56,149.39" fill="none" stroke="#86c286" stroke-width="0.6" stroke-linejoin="round" />
<polyline points="75.72,111.3 93.2,110.93 110.68,110.38 128.16,110.93 145.64,112.22 163.12,110.38 180.6,110.93 198.08,110.93 215.56,112.22" fill="none" stroke="#fff04a" stroke-width="0.6" stroke-linejoin="round" />
<polyline points="75.72,110.56 93.2,112.04 110.68,109.83 128.16,109.46 145.64,110.93 163.12,104.12 180.6,109.83 198.08,109.46 215.56,111.3" fill="none" stroke="#ff4ff0" stroke-width="0.6" stroke-linejoin="round" />
<polyline points="75.72,148.1 93.2,149.02 110.68,148.1 128.16,147.18 145.64,146.26 163.12,148.1 180.6,146.26 198.08,142.95 215.56,144.05" fill="none" stroke="#a9cdf5" stroke-width="0.6" stroke-linejoin="round" />
<polyline points="75.72,117.19 93.2,117.19 110.68,112.04 128.16,114.24 145.64,114.98 163.12,119.21 180.6,114.24 198.08,118.84 215.56,117.74" fill="none" stroke="#e070c4" stroke-width="0.6" stroke-linejoin="round" />
<polyline points="75.72,159.51 93.2,162.27 110.68,161.35 128.16,162.82 145.64,161.72 163.12,161.35 180.6,162.82 198.08,160.24 215.56,162.27" fill="none" stroke="#8e8e8e" stroke-width="0.6" stroke-linejoin="round" />
<polyline points="75.72,143.68 93.2,142.03 110.68,139.82 128.16,141.84 145.64,142.95 163.12,148.1 180.6,148.65 198.08,146.63 215.56,151.04" fill="none" stroke="#b060c0" stroke-width="0.6" stroke-linejoin="round" />
<polyline points="75.72,176.44 93.2,179.2 110.68,178.64 128.16,180.48 145.64,178.64 163.12,180.3 180.6,178.64 198.08,178.64 215.56,179.2" fill="none" stroke="#5cff5c" stroke-width="0.6" stroke-linejoin="round" />
</g>
<rect x="76.8" y="76.1" width="140" height="110.1" fill="none" stroke="#8a8a8a" stroke-width="0.5"/>
<path d="M93.2 186.2v-1.4M93.2 76.1v1.4M110.68 186.2v-1.4M110.68 76.1v1.4M128.16 186.2v-1.4M128.16 76.1v1.4M145.64 186.2v-1.4M145.64 76.1v1.4M163.12 186.2v-1.4M163.12 76.1v1.4M180.6 186.2v-1.4M180.6 76.1v1.4M198.08 186.2v-1.4M198.08 76.1v1.4M76.8 166.5h1.4M216.8 166.5h-1.4M76.8 148.1h1.4M216.8 148.1h-1.4M76.8 129.7h1.4M216.8 129.7h-1.4M76.8 111.3h1.4M216.8 111.3h-1.4M76.8 92.9h1.4M216.8 92.9h-1.4" stroke="#8a8a8a" stroke-width="0.4" fill="none"/>
<text x="93.2" y="192.1" font-size="4.4" text-anchor="middle"  class="s">248</text>
<text x="110.68" y="192.1" font-size="4.4" text-anchor="middle"  class="s">249</text>
<text x="128.16" y="192.1" font-size="4.4" text-anchor="middle"  class="s">250</text>
<text x="145.64" y="192.1" font-size="4.4" text-anchor="middle"  class="s">251</text>
<text x="163.12" y="192.1" font-size="4.4" text-anchor="middle"  class="s">252</text>
<text x="180.6" y="192.1" font-size="4.4" text-anchor="middle"  class="s">253</text>
<text x="198.08" y="192.1" font-size="4.4" text-anchor="middle"  class="s">254</text>
<text x="215.56" y="192.1" font-size="4.4" text-anchor="middle"  class="s">255</text>
<text x="74.4" y="186.3" font-size="4.4" text-anchor="end"  class="s">6</text>
<text x="74.4" y="167.9" font-size="4.4" text-anchor="end"  class="s">7</text>
<text x="74.4" y="149.5" font-size="4.4" text-anchor="end"  class="s">8</text>
<text x="74.4" y="131.1" font-size="4.4" text-anchor="end"  class="s">9</text>
<text x="74.4" y="112.7" font-size="4.4" text-anchor="end"  class="s">10</text>
<text x="74.4" y="94.3" font-size="4.4" text-anchor="end"  class="s">11</text>
<text x="146.7" y="197.4" font-size="4.7" text-anchor="middle"  class="s">Epoch</text>
<text transform="translate(68.4,132.5) rotate(-90)" font-size="5.3" class="s" text-anchor="middle">Train-loss</text>
<text x="76.9" y="75.4" font-size="4.6" class="s" text-anchor="start">×10<tspan dy="-1.6" font-size="3.2">-3</tspan></text>
<rect x="227.4" y="14.7" width="85.1" height="113.7" fill="#fff" stroke="#666" stroke-width="0.7"/>
<line x1="230.2" y1="20.5" x2="256.2" y2="20.5" stroke="#555555" stroke-width="0.9"/>
<text x="258.6" y="23.2" font-size="7.8" text-anchor="start" >FCN</text>
<line x1="230.2" y1="29.78" x2="256.2" y2="29.78" stroke="#ff9a9a" stroke-width="0.9"/>
<text x="258.6" y="32.48" font-size="7.8" text-anchor="start" >U-Net</text>
<line x1="230.2" y1="39.06" x2="256.2" y2="39.06" stroke="#6a74ff" stroke-width="0.9"/>
<text x="258.6" y="41.76" font-size="7.8" text-anchor="start" >Attention U-Net</text>
<line x1="230.2" y1="48.34" x2="256.2" y2="48.34" stroke="#7af2f2" stroke-width="0.9"/>
<text x="258.6" y="51.04" font-size="7.8" text-anchor="start" >ResUNet</text>
<line x1="230.2" y1="57.62" x2="256.2" y2="57.62" stroke="#8fc68f" stroke-width="0.9"/>
<text x="258.6" y="60.32" font-size="7.8" text-anchor="start" >DeepLabv3+</text>
<line x1="230.2" y1="66.9" x2="256.2" y2="66.9" stroke="#fff27a" stroke-width="0.9"/>
<text x="258.6" y="69.6" font-size="7.8" text-anchor="start" >PSPNet</text>
<line x1="230.2" y1="76.18" x2="256.2" y2="76.18" stroke="#ff6af2" stroke-width="0.9"/>
<text x="258.6" y="78.88" font-size="7.8" text-anchor="start" >RefineNet</text>
<line x1="230.2" y1="85.46" x2="256.2" y2="85.46" stroke="#b4d2f5" stroke-width="0.9"/>
<text x="258.6" y="88.16" font-size="7.8" text-anchor="start" >TrSeg</text>
<line x1="230.2" y1="94.74" x2="256.2" y2="94.74" stroke="#e080c8" stroke-width="0.9"/>
<text x="258.6" y="97.44" font-size="7.8" text-anchor="start" >CKDNet</text>
<line x1="230.2" y1="104.02" x2="256.2" y2="104.02" stroke="#9c9c9c" stroke-width="0.9"/>
<text x="258.6" y="106.72" font-size="7.8" text-anchor="start" >FAT-Net</text>
<line x1="230.2" y1="113.3" x2="256.2" y2="113.3" stroke="#b878c6" stroke-width="0.9"/>
<text x="258.6" y="116" font-size="7.8" text-anchor="start" >SegFormer</text>
<line x1="230.2" y1="122.58" x2="256.2" y2="122.58" stroke="#78ff78" stroke-width="0.9"/>
<text x="258.6" y="125.28" font-size="7.8" text-anchor="start" >MulTNet(Ours)</text>
<clipPath id="cb"><rect x="33.4" y="280.5" width="287.6" height="225.4"/></clipPath>
<rect x="34" y="280.5" width="286.4" height="224.9" fill="none" stroke="#858585" stroke-width="1.0"/>
<g clip-path="url(#cb)">
<polyline points="34,354.4 35.43,358.4 36.86,358.74 38.3,359.37 39.73,366.62 41.16,366.88 42.59,370.21 44.02,379.74 45.46,389.93 46.89,405.95 48.32,409.3 49.75,412.99 51.18,414.91 52.62,416.75 54.05,417.74 55.48,416.58 56.91,425.56 58.34,415.6 59.78,420.58 61.21,422.28 62.64,430.75 64.07,424.24 65.5,433.86 66.94,429.95 68.37,430.87 69.8,441.32 71.23,446.68 72.66,441.73 74.1,446.03 75.53,449.63 76.96,449.61 78.39,449.97 79.82,453.32 81.26,453.14 82.69,455.32 84.12,455.62 85.55,454.43 86.98,459.31 88.42,456.25 89.85,458.43 91.28,457.69 92.71,457.78 94.14,460.94 95.58,459.85 97.01,455.81 98.44,461.94 99.87,460.96 101.3,464.46 102.74,463.37 104.17,463.86 105.6,458.48 107.03,463.46 108.46,468.85 109.9,461.7 111.33,465.24 112.76,463.9 114.19,465.18 115.62,463.45 117.06,466.19 118.49,468.07 119.92,469.94 121.35,467.13 122.78,468.35 124.22,465.93 125.65,465.01 127.08,471.49 128.51,469.49 129.94,467.68 131.38,465.05 132.81,467.95 134.24,467.88 135.67,468.21 137.1,468.24 138.54,466.81 139.97,468.84 141.4,472.64 142.83,470.62 144.26,470.25 145.7,471.85 147.13,471.13 148.56,472.07 149.99,472.4 151.42,470.29 152.86,472.46 154.29,473.71 155.72,473.29 157.15,472.54 158.58,469.41 160.02,472.54 161.45,470.5 162.88,472.24 164.31,475.37 165.74,473.01 167.18,474.37 168.61,475.29 170.04,474.86 171.47,472.09 172.9,475.82 174.34,475.04 175.77,473.11 177.2,473.21 178.63,476.67 180.06,474.67 181.5,475.32 182.93,474.62 184.36,473.43 185.79,475.47 187.22,475.9 188.66,473.15 190.09,476.73 191.52,475.81 192.95,474.58 194.38,476.41 195.82,476.39 197.25,476.37 198.68,474.91 200.11,475.83 201.54,474.72 202.98,474.42 204.41,475.46 205.84,475.65 207.27,475.4 208.7,474.99 210.14,476.65 211.57,474.96 213,474.84 214.43,474.69 215.86,477.15 217.3,474.66 218.73,473.9 220.16,474.95 221.59,477.83 223.02,475.91 224.46,475.39 225.89,475.14 227.32,476.05 228.75,475.46 230.18,475.96 231.62,475.51 233.05,476.4 234.48,475.47 235.91,474.99 237.34,476.04 238.78,475.61 240.21,476.27 241.64,476.55 243.07,476.15 244.5,474.62 245.94,476.34 247.37,474.27 248.8,477.17 250.23,475.76 251.66,474.66 253.1,475.03 254.53,477.31 255.96,477.64 257.39,475.44 258.82,477.07 260.26,475.2 261.69,476.32 263.12,475.69 264.55,473.39 265.98,474.39 267.42,475.27 268.85,477.69 270.28,475.08 271.71,475.45 273.14,476.21 274.58,474.42 276.01,477.42 277.44,474.99 278.87,475.77 280.3,476.48 281.74,473.63 283.17,477.54 284.6,475.91 286.03,475.67 287.46,478.23 288.9,476.68 290.33,476.53 291.76,474.87 293.19,475.02 294.62,474.89 296.06,475.33 297.49,478.19 298.92,475.64 300.35,476.68 301.78,474.54 303.22,474.11 304.65,473.14 306.08,474.85 307.51,474.68 308.94,476.99 310.38,475.79 311.81,476.72 313.24,474.69 314.67,477.22 316.1,475.84 317.54,476.39 318.97,476.05 320.4,475.25" fill="none" stroke="#101010" stroke-width="0.75" stroke-linejoin="round" />
<polyline points="34,338.33 35.43,339.12 36.86,348.49 38.3,363.52 39.73,374.99 41.16,382 42.59,396.25 44.02,398.08 45.46,407.97 46.89,411.35 48.32,420.61 49.75,423.37 51.18,423.92 52.62,434.56 54.05,438.63 55.48,438.38 56.91,441.11 58.34,443.08 59.78,445.87 61.21,445.42 62.64,447.88 64.07,454.33 65.5,452.13 66.94,453.25 68.37,453.44 69.8,458.65 71.23,460.73 72.66,458.76 74.1,463.44 75.53,462.9 76.96,463.69 78.39,464.68 79.82,466.17 81.26,468.87 82.69,466.48 84.12,470.02 85.55,470.99 86.98,468.77 88.42,471.68 89.85,474.18 91.28,474.62 92.71,474.36 94.14,475.44 95.58,477.69 97.01,475.7 98.44,475.77 99.87,476.79 101.3,477.74 102.74,477.81 104.17,478.02 105.6,479.74 107.03,479.58 108.46,479.4 109.9,479.18 111.33,479.88 112.76,481.46 114.19,481.46 115.62,479.47 117.06,482.17 118.49,481.67 119.92,482.67 121.35,481.12 122.78,482.84 124.22,484.03 125.65,484.78 127.08,484.15 128.51,484.11 129.94,484.44 131.38,486.31 132.81,484.45 134.24,486.26 135.67,487.13 137.1,486.8 138.54,487.25 139.97,487.79 141.4,487.33 142.83,487.63 144.26,488.12 145.7,488.8 147.13,487.78 148.56,488.55 149.99,487.69 151.42,488.42 152.86,488.57 154.29,488.92 155.72,487.91 157.15,489.46 158.58,489.92 160.02,489.27 161.45,490.85 162.88,489.2 164.31,489.84 165.74,489.81 167.18,489.36 168.61,489.79 170.04,489.9 171.47,490.65 172.9,489.61 174.34,490.53 175.77,490.83 177.2,489.78 178.63,490.11 180.06,489.56 181.5,491.16 182.93,491.53 184.36,490.73 185.79,490.27 187.22,490.67 188.66,490.96 190.09,490.44 191.52,491.42 192.95,491.12 194.38,491.73 195.82,491.47 197.25,491.18 198.68,491.49 200.11,492.13 201.54,491.8 202.98,492.22 204.41,492.13 205.84,492.56 207.27,491.67 208.7,491.52 210.14,491.5 211.57,492 213,492.49 214.43,492.42 215.86,492.07 217.3,491.26 218.73,491.84 220.16,492.24 221.59,491.94 223.02,492.05 224.46,492.21 225.89,492.31 227.32,491.86 228.75,493.02 230.18,492.52 231.62,492.87 233.05,491.67 234.48,492.52 235.91,493.17 237.34,492.51 238.78,493.62 240.21,492.1 241.64,492.58 243.07,491.6 244.5,492.6 245.94,492.66 247.37,493.17 248.8,492.05 250.23,492.55 251.66,492.64 253.1,492.62 254.53,492.62 255.96,492.52 257.39,492.81 258.82,492.62 260.26,493.41 261.69,493.04 263.12,493.03 264.55,493.28 265.98,492.8 267.42,492.94 268.85,492.27 270.28,492.22 271.71,493.15 273.14,493.04 274.58,493.75 276.01,493.24 277.44,492.86 278.87,492.97 280.3,493.05 281.74,493.7 283.17,494.08 284.6,493.78 286.03,493.14 287.46,493.54 288.9,493.07 290.33,493.92 291.76,493.52 293.19,492.4 294.62,493.09 296.06,493.55 297.49,493.94 298.92,493.46 300.35,493.85 301.78,493.39 303.22,493.96 304.65,493.13 306.08,494.47 307.51,494.02 308.94,493.27 310.38,494.2 311.81,493.22 313.24,493.57 314.67,493.45 316.1,492.67 317.54,493.77 318.97,493.29 320.4,494.16" fill="none" stroke="#f01010" stroke-width="0.75" stroke-linejoin="round" />
<polyline points="34,344.76 35.43,340.62 36.86,355.09 38.3,374.19 39.73,385.04 41.16,395.33 42.59,410.49 44.02,411.79 45.46,420.77 46.89,423.58 48.32,426.09 49.75,431.59 51.18,432.35 52.62,439.81 54.05,441.24 55.48,444.75 56.91,443.77 58.34,445.76 59.78,446.8 61.21,450.33 62.64,449.75 64.07,451.75 65.5,451.67 66.94,455.05 68.37,455.45 69.8,459.38 71.23,464.81 72.66,463.29 74.1,466.79 75.53,464.11 76.96,464.42 78.39,467.7 79.82,468.2 81.26,471.08 82.69,473.44 84.12,472.25 85.55,472.73 86.98,475.74 88.42,474.73 89.85,474.41 91.28,475.48 92.71,475.41 94.14,476.54 95.58,478.31 97.01,478.5 98.44,478.26 99.87,480.13 101.3,478.31 102.74,478.95 104.17,480.94 105.6,481.58 107.03,477.39 108.46,480.62 109.9,480.39 111.33,480.2 112.76,481.64 114.19,482.06 115.62,482.37 117.06,483.65 118.49,482.41 119.92,484.26 121.35,483.64 122.78,483.67 124.22,485.68 125.65,483.31 127.08,486.74 128.51,484.91 129.94,486.15 131.38,485.81 132.81,487.07 134.24,484.81 135.67,485.97 137.1,485.99 138.54,486.96 139.97,487.26 141.4,487.66 142.83,487.8 144.26,487.36 145.7,488.32 147.13,488.79 148.56,489.64 149.99,488.67 151.42,488.48 152.86,489.23 154.29,488.84 155.72,489.28 157.15,490.04 158.58,490.33 160.02,490.24 161.45,489.9 162.88,489.89 164.31,489.66 165.74,490.62 167.18,490.61 168.61,490.15 170.04,490.49 171.47,490.59 172.9,489.83 174.34,490.49 175.77,490.63 177.2,490.65 178.63,490.58 180.06,490.87 181.5,491.31 182.93,491.14 184.36,491.31 185.79,490.49 187.22,490.47 188.66,491.95 190.09,491.06 191.52,491.73 192.95,490.75 194.38,491.68 195.82,491.13 197.25,491.24 198.68,491.89 200.11,491.74 201.54,491.64 202.98,492.12 204.41,492.03 205.84,491.16 207.27,491.86 208.7,492.63 210.14,492.93 211.57,493.15 213,492.46 214.43,492.18 215.86,492.69 217.3,492.17 218.73,492.93 220.16,492.12 221.59,492.26 223.02,492.26 224.46,491.94 225.89,491.49 227.32,492.42 228.75,492.65 230.18,492.84 231.62,492.93 233.05,493.27 234.48,492.37 235.91,492.92 237.34,492.51 238.78,492.32 240.21,492.32 241.64,492.87 243.07,492.33 244.5,492.51 245.94,492.88 247.37,493.41 248.8,492.42 250.23,493.51 251.66,493.13 253.1,493.41 254.53,493.53 255.96,492.94 257.39,493.71 258.82,492.94 260.26,492.8 261.69,493.24 263.12,493.02 264.55,493.36 265.98,492.94 267.42,493.44 268.85,493.63 270.28,493.44 271.71,493.17 273.14,493.64 274.58,493.35 276.01,493.6 277.44,492.98 278.87,493.55 280.3,493 281.74,494.29 283.17,493.22 284.6,493.21 286.03,493.65 287.46,493.17 288.9,492.89 290.33,493.12 291.76,493.86 293.19,493.26 294.62,493.18 296.06,494.02 297.49,493.32 298.92,494.17 300.35,493.88 301.78,493.87 303.22,494.17 304.65,493.3 306.08,493.98 307.51,493.75 308.94,493.09 310.38,493.69 311.81,494.03 313.24,494.31 314.67,493.96 316.1,493.79 317.54,493.7 318.97,494.06 320.4,493.84" fill="none" stroke="#1010f0" stroke-width="0.75" stroke-linejoin="round" />
<polyline points="34,319.05 35.43,348.3 36.86,364.13 38.3,369.8 39.73,379.36 41.16,390.24 42.59,398.19 44.02,401.76 45.46,408.98 46.89,414.41 48.32,418.9 49.75,422.68 51.18,427.37 52.62,429.26 54.05,433.04 55.48,436.56 56.91,437.16 58.34,441.26 59.78,438.64 61.21,444.52 62.64,444.52 64.07,445.86 65.5,448.47 66.94,450.7 68.37,451.53 69.8,456.4 71.23,457.97 72.66,460.21 74.1,462.98 75.53,465.37 76.96,466.72 78.39,470.11 79.82,471.32 81.26,472.87 82.69,474.59 84.12,475.94 85.55,477.51 86.98,478.46 88.42,479.79 89.85,480.86 91.28,480.77 92.71,482.73 94.14,482.23 95.58,483.32 97.01,483.71 98.44,484.79 99.87,485.14 101.3,486.76 102.74,485.11 104.17,486.59 105.6,487.05 107.03,486.49 108.46,486.92 109.9,487.03 111.33,487.51 112.76,487.3 114.19,488.21 115.62,487.88 117.06,489.32 118.49,488.74 119.92,489.19 121.35,489.24 122.78,489.4 124.22,490.2 125.65,489.04 127.08,489.38 128.51,490.92 129.94,490.15 131.38,490.04 132.81,490.58 134.24,490.97 135.67,491.05 137.1,490.5 138.54,490.54 139.97,491.77 141.4,491.22 142.83,491.2 144.26,491.74 145.7,491.18 147.13,491.42 148.56,491.93 149.99,491.08 151.42,492.06 152.86,492.08 154.29,491.99 155.72,492 157.15,491.91 158.58,492.22 160.02,492.35 161.45,492.82 162.88,492.6 164.31,492.78 165.74,492.3 167.18,492.94 168.61,492.96 170.04,493.47 171.47,492.91 172.9,492.76 174.34,493.1 175.77,493.93 177.2,493.32 178.63,493.08 180.06,492.97 181.5,493.07 182.93,493.86 184.36,493.61 185.79,493.31 187.22,493.86 188.66,493.51 190.09,494.14 191.52,493.93 192.95,493.74 194.38,493.89 195.82,493.1 197.25,493.8 198.68,493.63 200.11,494.3 201.54,493.78 202.98,494.02 204.41,494.54 205.84,494.24 207.27,494.27 208.7,494.35 210.14,494.89 211.57,494.7 213,494.36 214.43,494.62 215.86,494.2 217.3,494.67 218.73,493.82 220.16,494.26 221.59,494.53 223.02,494.65 224.46,494.17 225.89,494.53 227.32,494.26 228.75,494.66 230.18,494.7 231.62,494.85 233.05,494.8 234.48,494.82 235.91,494.54 237.34,494.4 238.78,494.63 240.21,494.63 241.64,494.67 243.07,494.39 244.5,494.62 245.94,494.33 247.37,494.62 248.8,494.81 250.23,494.57 251.66,495.02 253.1,495.14 254.53,494.21 255.96,495.04 257.39,494.89 258.82,495.08 260.26,494.93 261.69,494.43 263.12,495.35 264.55,494.84 265.98,494.97 267.42,495.42 268.85,495.15 270.28,495.47 271.71,495.14 273.14,495.29 274.58,494.87 276.01,495.51 277.44,495.2 278.87,494.79 280.3,495.17 281.74,495.44 283.17,496.04 284.6,494.91 286.03,495.2 287.46,495.52 288.9,494.91 290.33,495.24 291.76,495.58 293.19,495.58 294.62,495.17 296.06,495.66 297.49,495.61 298.92,495 300.35,495.44 301.78,495.86 303.22,494.98 304.65,495.32 306.08,495.75 307.51,495.84 308.94,495.57 310.38,495.67 311.81,495.17 313.24,495.11 314.67,495.75 316.1,494.65 317.54,495.54 318.97,495.63 320.4,494.85" fill="none" stroke="#00e0e0" stroke-width="0.75" stroke-linejoin="round" />
<polyline points="34,331.91 35.43,343.03 36.86,359.14 38.3,377.16 39.73,387.2 41.16,399 42.59,410.13 44.02,414.2 45.46,418.74 46.89,425.62 48.32,426.72 49.75,432.37 51.18,436.59 52.62,438.88 54.05,440.33 55.48,440.78 56.91,443.83 58.34,445.56 59.78,448.29 61.21,449.39 62.64,450.48 64.07,454.71 65.5,458.11 66.94,456.51 68.37,461.03 69.8,464.12 71.23,466.16 72.66,468.3 74.1,471.76 75.53,471.65 76.96,472.99 78.39,472.81 79.82,474.25 81.26,475.02 82.69,476.67 84.12,477.33 85.55,479 86.98,479.98 88.42,481.88 89.85,480.83 91.28,482.25 92.71,483.04 94.14,482.8 95.58,483.88 97.01,484.29 98.44,484.08 99.87,483.71 101.3,484.65 102.74,485.78 104.17,485.56 105.6,484.97 107.03,486.4 108.46,485.27 109.9,486.71 111.33,486.32 112.76,487.12 114.19,487.49 115.62,487.54 117.06,486.53 118.49,487.49 119.92,487.19 121.35,487.96 122.78,487.89 124.22,488.02 125.65,488.19 127.08,487.59 128.51,488.8 129.94,489.04 131.38,489.15 132.81,489.7 134.24,489.9 135.67,488.86 137.1,490.29 138.54,489.29 139.97,489.51 141.4,490.22 142.83,490.91 144.26,490 145.7,490.46 147.13,490.13 148.56,490.98 149.99,490.45 151.42,490.73 152.86,490.6 154.29,491.13 155.72,491.77 157.15,491.58 158.58,491.29 160.02,491.34 161.45,491.25 162.88,490.96 164.31,491.41 165.74,491.62 167.18,491.22 168.61,491.48 170.04,491.69 171.47,491.21 172.9,492.1 174.34,492.18 175.77,491.56 177.2,491.5 178.63,491.8 180.06,492.08 181.5,492.43 182.93,492.53 184.36,492.44 185.79,492.48 187.22,493.19 188.66,492.68 190.09,492.92 191.52,492.36 192.95,492.79 194.38,493.3 195.82,492.7 197.25,492.81 198.68,493.25 200.11,493.47 201.54,493.52 202.98,493.39 204.41,493.59 205.84,492.77 207.27,492.77 208.7,493.88 210.14,493.87 211.57,493.2 213,493.14 214.43,493.19 215.86,493.29 217.3,494.03 218.73,493.24 220.16,494.3 221.59,492.88 223.02,493.6 224.46,494.44 225.89,494.38 227.32,493.78 228.75,493.92 230.18,493.81 231.62,494.08 233.05,493.04 234.48,493.58 235.91,494.03 237.34,494.17 238.78,494.79 240.21,494.3 241.64,493.93 243.07,493.98 244.5,494.41 245.94,494.07 247.37,494.24 248.8,494.3 250.23,493.77 251.66,494.28 253.1,494.17 254.53,493.75 255.96,494.4 257.39,494.22 258.82,494.03 260.26,494.29 261.69,494.51 263.12,493.55 264.55,494.45 265.98,494.16 267.42,494.53 268.85,494.55 270.28,494.09 271.71,494.49 273.14,494.44 274.58,495.06 276.01,494.7 277.44,494.53 278.87,493.85 280.3,494.79 281.74,494.92 283.17,494.63 284.6,494.1 286.03,494.71 287.46,494.98 288.9,494.3 290.33,494.6 291.76,494.75 293.19,495.32 294.62,494.87 296.06,494.71 297.49,494.56 298.92,494.39 300.35,494.93 301.78,494.88 303.22,494.66 304.65,495.08 306.08,494.88 307.51,495.17 308.94,494.75 310.38,494.36 311.81,494.93 313.24,495.04 314.67,494.58 316.1,494.76 317.54,494.86 318.97,494.83 320.4,494.53" fill="none" stroke="#339933" stroke-width="0.75" stroke-linejoin="round" />
<polyline points="34,338.33 35.43,347.11 36.86,359.61 38.3,369.23 39.73,378.4 41.16,386.39 42.59,393.54 44.02,396.64 45.46,401.86 46.89,406.28 48.32,410.94 49.75,416.21 51.18,417.19 52.62,421.69 54.05,423.45 55.48,426.11 56.91,426.23 58.34,428.55 59.78,431.93 61.21,433.7 62.64,435.23 64.07,436.95 65.5,438.16 66.94,440.74 68.37,442.36 69.8,445.63 71.23,445.9 72.66,448.42 74.1,447.41 75.53,447.9 76.96,450.3 78.39,450.49 79.82,450.9 81.26,452.85 82.69,454.8 84.12,455.79 85.55,458.42 86.98,458.01 88.42,460.01 89.85,460.52 91.28,461.14 92.71,462.59 94.14,462.87 95.58,463.26 97.01,464.68 98.44,464.9 99.87,466.14 101.3,466.62 102.74,466.53 104.17,467.21 105.6,468.51 107.03,469.09 108.46,469.55 109.9,470.68 111.33,470 112.76,471.19 114.19,472.27 115.62,472.61 117.06,471.84 118.49,473.29 119.92,473.24 121.35,473.12 122.78,473.44 124.22,473.8 125.65,475.18 127.08,474.23 128.51,475.16 129.94,476.01 131.38,474.94 132.81,475.53 134.24,476.43 135.67,476.41 137.1,476.76 138.54,476.99 139.97,477.38 141.4,477.05 142.83,477.08 144.26,477.63 145.7,478.62 147.13,477.97 148.56,478.47 149.99,478.3 151.42,479.28 152.86,479.68 154.29,479.08 155.72,479.34 157.15,479.39 158.58,480.31 160.02,480.3 161.45,480.52 162.88,480.98 164.31,480.68 165.74,480.76 167.18,481.43 168.61,480.97 170.04,482.12 171.47,481.23 172.9,481.84 174.34,481.66 175.77,481.85 177.2,482.09 178.63,481.97 180.06,482.62 181.5,483.03 182.93,482.78 184.36,482.51 185.79,483.25 187.22,483.17 188.66,483.52 190.09,483.23 191.52,483.36 192.95,483.41 194.38,483.43 195.82,483.74 197.25,484.56 198.68,483.48 200.11,484.29 201.54,483.83 202.98,484.34 204.41,484.32 205.84,484.77 207.27,484.18 208.7,484.47 210.14,484.65 211.57,484.17 213,485.06 214.43,484.98 215.86,485.09 217.3,484.74 218.73,485.01 220.16,485.46 221.59,484.98 223.02,486.17 224.46,485.21 225.89,485.61 227.32,486.06 228.75,486.73 230.18,486.15 231.62,486.64 233.05,485.74 234.48,486.29 235.91,485.91 237.34,486.67 238.78,486.11 240.21,486.13 241.64,485.9 243.07,486.82 244.5,486.51 245.94,487.41 247.37,486.99 248.8,487.1 250.23,487.28 251.66,487.05 253.1,487 254.53,486.79 255.96,487.15 257.39,487.35 258.82,487.27 260.26,487.06 261.69,486.56 263.12,487.29 264.55,487.74 265.98,486.92 267.42,487.12 268.85,487.81 270.28,487.85 271.71,487.89 273.14,487.27 274.58,488.34 276.01,486.91 277.44,487.97 278.87,487.96 280.3,487.82 281.74,488.25 283.17,487.84 284.6,488.48 286.03,488.58 287.46,488.62 288.9,488.2 290.33,488.39 291.76,488.96 293.19,488.32 294.62,488.68 296.06,488.37 297.49,488.79 298.92,489.2 300.35,487.96 301.78,488.82 303.22,488.77 304.65,488.49 306.08,488.52 307.51,488.5 308.94,488.8 310.38,488.82 311.81,488.55 313.24,488.6 314.67,489.19 316.1,488.68 317.54,488.81 318.97,488.81 320.4,489.36" fill="none" stroke="#f4ec00" stroke-width="0.75" stroke-linejoin="round" />
<polyline points="34,331.91 35.43,346.97 36.86,360.29 38.3,374.19 39.73,385.22 41.16,394.69 42.59,401.91 44.02,407.03 45.46,410.75 46.89,418.31 48.32,423.68 49.75,427.59 51.18,427.65 52.62,431.91 54.05,435.62 55.48,436.48 56.91,441.63 58.34,441.46 59.78,443.59 61.21,445.45 62.64,447.99 64.07,447.81 65.5,448.6 66.94,454.39 68.37,454.49 69.8,455.72 71.23,455.41 72.66,459.72 74.1,461.16 75.53,461.25 76.96,460.51 78.39,462.55 79.82,464.06 81.26,463.2 82.69,467.22 84.12,468.95 85.55,466.75 86.98,467.82 88.42,470.77 89.85,470.67 91.28,470.94 92.71,471.84 94.14,473.41 95.58,473.28 97.01,474.67 98.44,474.08 99.87,475.21 101.3,474.11 102.74,475.71 104.17,477.41 105.6,476.64 107.03,476.33 108.46,477.19 109.9,477.14 111.33,478.08 112.76,477.67 114.19,479.34 115.62,479.08 117.06,480.24 118.49,478.88 119.92,480.54 121.35,481.15 122.78,479.95 124.22,480.92 125.65,480.79 127.08,481.42 128.51,481.2 129.94,482.13 131.38,481.77 132.81,482.16 134.24,482.2 135.67,481.86 137.1,483.14 138.54,483.45 139.97,482.81 141.4,483.63 142.83,483.81 144.26,484.25 145.7,483.68 147.13,484.45 148.56,484.27 149.99,485.14 151.42,485.05 152.86,485.76 154.29,485.88 155.72,485.56 157.15,486.01 158.58,485.56 160.02,486.86 161.45,485.83 162.88,485.98 164.31,485.99 165.74,486.58 167.18,486.87 168.61,487.27 170.04,487.17 171.47,487.72 172.9,487.48 174.34,487.23 175.77,488.21 177.2,487.69 178.63,487.79 180.06,488.39 181.5,487.8 182.93,488.39 184.36,487.78 185.79,488.23 187.22,488.36 188.66,488.12 190.09,488.95 191.52,488 192.95,488.35 194.38,488.48 195.82,488.55 197.25,488.96 198.68,489.36 200.11,489.24 201.54,489.7 202.98,488.62 204.41,489.53 205.84,489.61 207.27,490 208.7,489.61 210.14,489.19 211.57,489.85 213,489.58 214.43,489.44 215.86,489.29 217.3,489.44 218.73,490.3 220.16,489.87 221.59,490.1 223.02,490.34 224.46,490.44 225.89,490.22 227.32,490.11 228.75,490.81 230.18,490.81 231.62,490.27 233.05,490.22 234.48,490.51 235.91,490.39 237.34,490.34 238.78,490.08 240.21,490.77 241.64,490.12 243.07,490.83 244.5,490.66 245.94,490.39 247.37,490.78 248.8,490.64 250.23,490.78 251.66,490.75 253.1,489.89 254.53,490.47 255.96,490.5 257.39,490.73 258.82,491 260.26,490.16 261.69,491.56 263.12,490.39 264.55,491.02 265.98,491.29 267.42,491.11 268.85,490.56 270.28,491.4 271.71,491.38 273.14,491.12 274.58,491.43 276.01,491.84 277.44,490.82 278.87,491.43 280.3,490.91 281.74,491.41 283.17,491.04 284.6,491.63 286.03,490.84 287.46,491.17 288.9,490.94 290.33,491.8 291.76,491.42 293.19,491.59 294.62,491.55 296.06,491.87 297.49,491.79 298.92,491.03 300.35,491.73 301.78,492.42 303.22,492.11 304.65,491.7 306.08,491.59 307.51,491.21 308.94,491.9 310.38,491.53 311.81,491.75 313.24,491.53 314.67,491.13 316.1,491.64 317.54,491.53 318.97,492.07 320.4,491.81" fill="none" stroke="#f800f0" stroke-width="0.75" stroke-linejoin="round" />
<polyline points="34,344.76 35.43,342.64 36.86,356.93 38.3,377.42 39.73,390.23 41.16,401.05 42.59,412.16 44.02,418.48 45.46,421.94 46.89,429.51 48.32,430.62 49.75,438.09 51.18,440.24 52.62,439.86 54.05,441.53 55.48,445.2 56.91,445.07 58.34,445.92 59.78,447.24 61.21,450.28 62.64,451.48 64.07,454.86 65.5,455.13 66.94,456.86 68.37,458.59 69.8,464.01 71.23,465.65 72.66,467.37 74.1,467.23 75.53,471.11 76.96,471.17 78.39,469.53 79.82,471.91 81.26,474.21 82.69,474.98 84.12,475.39 85.55,476.37 86.98,478.01 88.42,479.11 89.85,479.04 91.28,480.4 92.71,479.89 94.14,480.75 95.58,482.34 97.01,481.5 98.44,482.7 99.87,482.41 101.3,483.46 102.74,483.91 104.17,483.67 105.6,484.44 107.03,483.95 108.46,483.97 109.9,483.81 111.33,484.31 112.76,485.25 114.19,485.11 115.62,485.37 117.06,485.17 118.49,487.03 119.92,485.8 121.35,486.82 122.78,486.02 124.22,486.78 125.65,486.81 127.08,486.96 128.51,487.93 129.94,487.93 131.38,487.27 132.81,487.7 134.24,488.82 135.67,488.02 137.1,487.91 138.54,488.23 139.97,487.74 141.4,488.28 142.83,489.06 144.26,487.85 145.7,488.75 147.13,488.36 148.56,489.68 149.99,488.61 151.42,489.62 152.86,489.06 154.29,489.81 155.72,489.08 157.15,489.61 158.58,489.34 160.02,490.96 161.45,489.93 162.88,489.91 164.31,490.34 165.74,490.55 167.18,490.34 168.61,490.19 170.04,490.64 171.47,490.62 172.9,490.64 174.34,490.77 175.77,490.59 177.2,490.56 178.63,491.29 180.06,491.51 181.5,490.99 182.93,492.03 184.36,491.68 185.79,491.29 187.22,491.67 188.66,491.43 190.09,491.84 191.52,491.4 192.95,491.75 194.38,491.99 195.82,491.77 197.25,491.73 198.68,491.98 200.11,491.84 201.54,491.75 202.98,491.72 204.41,492.6 205.84,491.85 207.27,492.25 208.7,492.14 210.14,492.79 211.57,492.48 213,492.36 214.43,492.46 215.86,492.23 217.3,492.31 218.73,492.4 220.16,491.97 221.59,492.59 223.02,492.35 224.46,492.37 225.89,492 227.32,492.62 228.75,492.67 230.18,492.63 231.62,492.91 233.05,492.78 234.48,492.95 235.91,492.78 237.34,493.45 238.78,492.9 240.21,492.77 241.64,493.03 243.07,493.22 244.5,493.09 245.94,492.81 247.37,492.82 248.8,493.48 250.23,493.36 251.66,492.98 253.1,493.34 254.53,492.74 255.96,493.71 257.39,493.44 258.82,493.11 260.26,493.5 261.69,492.81 263.12,493.09 264.55,493.38 265.98,493.71 267.42,493.69 268.85,493.63 270.28,494.04 271.71,494.08 273.14,493.33 274.58,493.66 276.01,493.51 277.44,493.67 278.87,493.27 280.3,493.53 281.74,493.33 283.17,493.63 284.6,494.21 286.03,493.55 287.46,493.29 288.9,493.95 290.33,493.29 291.76,494.15 293.19,494.59 294.62,493.39 296.06,493.86 297.49,494.12 298.92,493.83 300.35,493.7 301.78,494.07 303.22,493.94 304.65,493.69 306.08,493.67 307.51,493.98 308.94,493.42 310.38,494.23 311.81,493.74 313.24,493.9 314.67,493.85 316.1,494.3 317.54,493.37 318.97,494 320.4,494.4" fill="none" stroke="#80b4f0" stroke-width="0.75" stroke-linejoin="round" />
<polyline points="34,338.33 35.43,341.35 36.86,355.59 38.3,374.72 39.73,385.85 41.16,395.04 42.59,405.28 44.02,414.69 45.46,420.15 46.89,423.12 48.32,429.38 49.75,434.04 51.18,434.71 52.62,434.68 54.05,437.73 55.48,441.65 56.91,439.81 58.34,446.31 59.78,446.68 61.21,450.01 62.64,448.4 64.07,451.93 65.5,456.09 66.94,457.29 68.37,455.47 69.8,459.27 71.23,461.53 72.66,463.26 74.1,467.34 75.53,467.64 76.96,469.18 78.39,469.55 79.82,470.5 81.26,470.52 82.69,470.87 84.12,471.84 85.55,471.86 86.98,475.91 88.42,475.73 89.85,476.17 91.28,477.91 92.71,478.56 94.14,478.34 95.58,479.74 97.01,479.09 98.44,479.08 99.87,481.21 101.3,482.17 102.74,481.15 104.17,482.33 105.6,481.78 107.03,482.56 108.46,482.2 109.9,482.02 111.33,482.58 112.76,483.16 114.19,484.2 115.62,485.42 117.06,485.01 118.49,484.77 119.92,484.25 121.35,484.93 122.78,485.16 124.22,485.88 125.65,485.94 127.08,486.5 128.51,484.97 129.94,486.5 131.38,485.05 132.81,486.11 134.24,484.9 135.67,485.62 137.1,485.66 138.54,485.55 139.97,486.78 141.4,486.92 142.83,486.95 144.26,486.84 145.7,486.84 147.13,486.99 148.56,487.11 149.99,487.45 151.42,487.65 152.86,486.99 154.29,488.98 155.72,487.32 157.15,487.73 158.58,488.78 160.02,488.92 161.45,488.33 162.88,488.79 164.31,489.52 165.74,489.81 167.18,489.04 168.61,489.72 170.04,489.02 171.47,489.11 172.9,489.81 174.34,489.34 175.77,489.8 177.2,489.96 178.63,490.69 180.06,489.85 181.5,490.35 182.93,490.22 184.36,490.14 185.79,490.11 187.22,491.4 188.66,491.61 190.09,490.62 191.52,490.76 192.95,490.49 194.38,490.71 195.82,490.18 197.25,490.28 198.68,490.99 200.11,491.08 201.54,491.02 202.98,490.82 204.41,490.78 205.84,491.02 207.27,490.98 208.7,491.13 210.14,491.47 211.57,491.76 213,490.91 214.43,490.7 215.86,491.41 217.3,491.9 218.73,490.89 220.16,491.72 221.59,491.74 223.02,492.1 224.46,491.35 225.89,491.77 227.32,492.12 228.75,491.59 230.18,492.17 231.62,491.86 233.05,492.01 234.48,492.2 235.91,492.26 237.34,492.22 238.78,492.32 240.21,492.44 241.64,492.31 243.07,492.26 244.5,492.16 245.94,492.66 247.37,492.04 248.8,492.28 250.23,492.3 251.66,492.25 253.1,493.36 254.53,492.4 255.96,493.36 257.39,491.86 258.82,492.76 260.26,492.05 261.69,492.56 263.12,492.31 264.55,492.3 265.98,492.47 267.42,492.5 268.85,493.04 270.28,492.78 271.71,493.03 273.14,492.56 274.58,492.58 276.01,492.57 277.44,492.72 278.87,493.18 280.3,492.91 281.74,492.4 283.17,492.67 284.6,492.91 286.03,492.84 287.46,493.38 288.9,493.18 290.33,492.82 291.76,493.35 293.19,492.91 294.62,493.28 296.06,493.52 297.49,493.24 298.92,492.9 300.35,493.18 301.78,493.22 303.22,492.76 304.65,493.34 306.08,493.42 307.51,493.11 308.94,493.13 310.38,493.26 311.81,493.54 313.24,493.27 314.67,493.35 316.1,493.28 317.54,492.99 318.97,493.04 320.4,493.66" fill="none" stroke="#d830a8" stroke-width="0.75" stroke-linejoin="round" />
<polyline points="34,344.76 35.43,342.94 36.86,355.98 38.3,375.82 39.73,388.15 41.16,399.17 42.59,407.33 44.02,414.28 45.46,424.1 46.89,428.22 48.32,430.82 49.75,437.76 51.18,441.4 52.62,442.38 54.05,440.99 55.48,442.96 56.91,447.59 58.34,448.84 59.78,449.82 61.21,450.29 62.64,455.52 64.07,455.88 65.5,457.46 66.94,459.95 68.37,462.81 69.8,465.35 71.23,467.33 72.66,471.68 74.1,468.2 75.53,471.53 76.96,473.24 78.39,475.31 79.82,476.12 81.26,475.7 82.69,476.91 84.12,479.67 85.55,480.71 86.98,480.75 88.42,482.27 89.85,482.29 91.28,483.86 92.71,484.18 94.14,484.07 95.58,484.97 97.01,485.03 98.44,486.24 99.87,486.48 101.3,485.93 102.74,485.91 104.17,486.48 105.6,487.23 107.03,487.06 108.46,486.74 109.9,487.12 111.33,487.64 112.76,488.14 114.19,487.64 115.62,488.58 117.06,488.9 118.49,489.22 119.92,488.87 121.35,488.76 122.78,489.05 124.22,489.71 125.65,489.8 127.08,489.56 128.51,488.87 129.94,489.69 131.38,488.77 132.81,490.12 134.24,489.77 135.67,490.36 137.1,490.66 138.54,490.11 139.97,490.78 141.4,490.25 142.83,490.43 144.26,490.88 145.7,491.13 147.13,491.13 148.56,490.75 149.99,490.85 151.42,492.61 152.86,491.15 154.29,490.9 155.72,491.09 157.15,491.57 158.58,491.53 160.02,492.16 161.45,492.13 162.88,492.42 164.31,492.45 165.74,492.18 167.18,492.39 168.61,492.93 170.04,492.26 171.47,492.84 172.9,492.55 174.34,492.57 175.77,492.7 177.2,493.02 178.63,493.18 180.06,492.96 181.5,493.04 182.93,493.19 184.36,492.78 185.79,492.94 187.22,493.56 188.66,492.62 190.09,492.95 191.52,492.92 192.95,492.98 194.38,493.19 195.82,493.03 197.25,493.37 198.68,493.8 200.11,493.4 201.54,493.27 202.98,493.46 204.41,493.72 205.84,493.39 207.27,494.53 208.7,493.77 210.14,494.08 211.57,493.93 213,493.72 214.43,494.02 215.86,493.95 217.3,494.35 218.73,493.65 220.16,494.7 221.59,494.34 223.02,493.88 224.46,493.67 225.89,494.26 227.32,493.89 228.75,494.29 230.18,494.01 231.62,494.35 233.05,494.46 234.48,494.76 235.91,495.07 237.34,493.84 238.78,494.4 240.21,493.86 241.64,494.48 243.07,494.34 244.5,494.87 245.94,494.38 247.37,494.93 248.8,494.37 250.23,494.33 251.66,494.54 253.1,494.63 254.53,494.17 255.96,494.49 257.39,494.63 258.82,494.64 260.26,494.43 261.69,494.87 263.12,494.32 264.55,494.91 265.98,494.85 267.42,495.57 268.85,494.65 270.28,495.33 271.71,494.47 273.14,494.47 274.58,494.94 276.01,494.86 277.44,494.99 278.87,494.7 280.3,495.18 281.74,495.04 283.17,494.93 284.6,494.83 286.03,494.44 287.46,495.37 288.9,495.05 290.33,494.23 291.76,494.89 293.19,494.9 294.62,495.09 296.06,494.86 297.49,494.96 298.92,495.23 300.35,495.13 301.78,495.22 303.22,494.55 304.65,494.93 306.08,494.91 307.51,495.35 308.94,494.77 310.38,495.19 311.81,495.51 313.24,495.57 314.67,495.31 316.1,495.27 317.54,495.18 318.97,495.43 320.4,494.94" fill="none" stroke="#404040" stroke-width="0.75" stroke-linejoin="round" />
<polyline points="34,341.54 35.43,344.11 36.86,360.05 38.3,381.19 39.73,393.98 41.16,404.46 42.59,414.51 44.02,423.55 45.46,428.9 46.89,427.77 48.32,434.35 49.75,441.54 51.18,440.87 52.62,444.63 54.05,445.66 55.48,450.13 56.91,447.22 58.34,451.71 59.78,450.44 61.21,445.87 62.64,448.51 64.07,453.68 65.5,455.62 66.94,457.68 68.37,461.64 69.8,462.02 71.23,462.66 72.66,465.75 74.1,464.59 75.53,466.59 76.96,468.56 78.39,465.92 79.82,469.06 81.26,470.62 82.69,469.28 84.12,471.55 85.55,474.76 86.98,474.9 88.42,476.85 89.85,478.51 91.28,475.43 92.71,476.29 94.14,480.18 95.58,478.53 97.01,481.21 98.44,478.86 99.87,480.25 101.3,477.02 102.74,482.61 104.17,481.28 105.6,476.83 107.03,478.71 108.46,484.5 109.9,481.62 111.33,482.97 112.76,482.99 114.19,482.91 115.62,477.92 117.06,484.88 118.49,482.17 119.92,484.31 121.35,482.14 122.78,484.71 124.22,484.54 125.65,484.4 127.08,483.17 128.51,484.56 129.94,483.99 131.38,485.99 132.81,485.02 134.24,485.02 135.67,485.21 137.1,486.21 138.54,484.52 139.97,485.36 141.4,482.9 142.83,485.64 144.26,483.24 145.7,484.11 147.13,485.35 148.56,486 149.99,486.01 151.42,485.7 152.86,487.87 154.29,485.55 155.72,487.3 157.15,487.13 158.58,488.96 160.02,486.89 161.45,486.54 162.88,487.2 164.31,487.62 165.74,487.93 167.18,488.03 168.61,487.65 170.04,488.15 171.47,488.55 172.9,487.97 174.34,488.55 175.77,488.74 177.2,488.42 178.63,488.91 180.06,488.09 181.5,489.14 182.93,488.18 184.36,488.88 185.79,490.15 187.22,489.07 188.66,489.13 190.09,489.63 191.52,489.93 192.95,489.73 194.38,490.74 195.82,490.39 197.25,490.58 198.68,489.93 200.11,488.87 201.54,490.6 202.98,489.51 204.41,490.97 205.84,490.88 207.27,490.75 208.7,489.39 210.14,491.02 211.57,491.37 213,490.87 214.43,490.12 215.86,491.05 217.3,491.07 218.73,491.2 220.16,490.01 221.59,490.98 223.02,490.43 224.46,490.9 225.89,490.46 227.32,490.46 228.75,491.34 230.18,491.46 231.62,491.8 233.05,491.44 234.48,491.28 235.91,490.85 237.34,492.22 238.78,491.03 240.21,490.87 241.64,490.54 243.07,491.44 244.5,492.06 245.94,491.77 247.37,490.43 248.8,492.11 250.23,491.96 251.66,491.65 253.1,491.55 254.53,491.37 255.96,491.95 257.39,491.4 258.82,491.45 260.26,490.94 261.69,491.85 263.12,491.74 264.55,491.18 265.98,491.67 267.42,492.52 268.85,491.88 270.28,491.74 271.71,491.35 273.14,492.27 274.58,492.01 276.01,491.86 277.44,491.48 278.87,491.67 280.3,492.22 281.74,492.99 283.17,492.41 284.6,492.31 286.03,493.42 287.46,491.57 288.9,491.9 290.33,491.92 291.76,492.2 293.19,492.22 294.62,492.37 296.06,492.65 297.49,492.39 298.92,492.48 300.35,492.18 301.78,492.89 303.22,492.21 304.65,493.08 306.08,491.96 307.51,491.79 308.94,492.12 310.38,492.76 311.81,492.93 313.24,493.02 314.67,491.97 316.1,493.09 317.54,492.52 318.97,493.53 320.4,492.96" fill="none" stroke="#780c90" stroke-width="0.75" stroke-linejoin="round" />
<polyline points="34,299.78 35.43,335.9 36.86,354.43 38.3,368.74 39.73,381.77 41.16,393.18 42.59,405.88 44.02,407.99 45.46,422.73 46.89,430.43 48.32,431.5 49.75,439.56 51.18,439.43 52.62,441.33 54.05,444.24 55.48,445.78 56.91,449.83 58.34,451.53 59.78,451.3 61.21,452.83 62.64,454.25 64.07,455.51 65.5,458.86 66.94,462.57 68.37,463.46 69.8,466.57 71.23,467.93 72.66,469.24 74.1,471.71 75.53,473.67 76.96,474.93 78.39,475.77 79.82,476.85 81.26,477.84 82.69,478.86 84.12,481.57 85.55,481.47 86.98,482.41 88.42,482.63 89.85,484.83 91.28,484.58 92.71,483.95 94.14,486.09 95.58,485.95 97.01,486.04 98.44,485.56 99.87,487.11 101.3,487.88 102.74,487.4 104.17,487.81 105.6,487.96 107.03,488.83 108.46,488.59 109.9,488.57 111.33,488.76 112.76,488.93 114.19,489.73 115.62,489.16 117.06,489.71 118.49,489.55 119.92,490.02 121.35,490.21 122.78,489.98 124.22,490.25 125.65,490.19 127.08,490.24 128.51,490.98 129.94,490.97 131.38,491.97 132.81,491.65 134.24,491.49 135.67,491.12 137.1,491.21 138.54,491.75 139.97,492.07 141.4,491.55 142.83,492.41 144.26,491.9 145.7,492.09 147.13,492.89 148.56,492.22 149.99,492.49 151.42,492.7 152.86,493.06 154.29,492.95 155.72,492.06 157.15,492.33 158.58,492.61 160.02,492.85 161.45,493.59 162.88,493.22 164.31,492.82 165.74,493.16 167.18,493.65 168.61,493.59 170.04,493.74 171.47,493.33 172.9,493.77 174.34,494.02 175.77,494 177.2,493.26 178.63,493.77 180.06,493.61 181.5,494.23 182.93,494.06 184.36,493.98 185.79,494.14 187.22,494.06 188.66,493.83 190.09,494.17 191.52,494.04 192.95,494.61 194.38,493.94 195.82,494.59 197.25,495 198.68,494.05 200.11,494.24 201.54,494.6 202.98,494.16 204.41,494.83 205.84,494.24 207.27,494.76 208.7,494.63 210.14,494.45 211.57,494.55 213,494.87 214.43,495.26 215.86,495.06 217.3,494.76 218.73,494.28 220.16,494.68 221.59,495.04 223.02,495.09 224.46,494.78 225.89,494.6 227.32,494.89 228.75,494.49 230.18,494.74 231.62,495.41 233.05,495.57 234.48,494.83 235.91,495.19 237.34,494.99 238.78,495.13 240.21,495 241.64,495.19 243.07,494.62 244.5,495.46 245.94,495.39 247.37,495.51 248.8,495.57 250.23,495.51 251.66,494.98 253.1,494.89 254.53,495.03 255.96,495.24 257.39,495.73 258.82,495.88 260.26,495.47 261.69,495.48 263.12,495.66 264.55,495.72 265.98,494.94 267.42,495.13 268.85,495.56 270.28,495.57 271.71,495.27 273.14,495.49 274.58,495.54 276.01,496.25 277.44,496.12 278.87,496.4 280.3,496.22 281.74,495.57 283.17,495.75 284.6,495.89 286.03,495.68 287.46,495.7 288.9,495.46 290.33,495.98 291.76,495.31 293.19,495.47 294.62,495.86 296.06,495.31 297.49,495.71 298.92,496.13 300.35,495.92 301.78,496.35 303.22,496.12 304.65,496 306.08,495.43 307.51,495.88 308.94,496.42 310.38,495.81 311.81,496.42 313.24,495.91 314.67,495.97 316.1,495.98 317.54,496.16 318.97,495.85 320.4,496.22" fill="none" stroke="#00e400" stroke-width="0.75" stroke-linejoin="round" />
</g>
<path d="M62.64 505.4v-2.8M62.64 280.5v2.8M91.28 505.4v-2.8M91.28 280.5v2.8M119.92 505.4v-2.8M119.92 280.5v2.8M148.56 505.4v-2.8M148.56 280.5v2.8M177.2 505.4v-2.8M177.2 280.5v2.8M205.84 505.4v-2.8M205.84 280.5v2.8M234.48 505.4v-2.8M234.48 280.5v2.8M263.12 505.4v-2.8M263.12 280.5v2.8M291.76 505.4v-2.8M291.76 280.5v2.8M34 473.27h2.8M320.4 473.27h-2.8M34 441.14h2.8M320.4 441.14h-2.8M34 409.01h2.8M320.4 409.01h-2.8M34 376.89h2.8M320.4 376.89h-2.8M34 344.76h2.8M320.4 344.76h-2.8M34 312.63h2.8M320.4 312.63h-2.8" stroke="#858585" stroke-width="0.8" fill="none"/>
<text x="34" y="517.6" font-size="8.6" text-anchor="middle" >0</text>
<text x="62.64" y="517.6" font-size="8.6" text-anchor="middle" >20</text>
<text x="91.28" y="517.6" font-size="8.6" text-anchor="middle" >40</text>
<text x="119.92" y="517.6" font-size="8.6" text-anchor="middle" >60</text>
<text x="148.56" y="517.6" font-size="8.6" text-anchor="middle" >80</text>
<text x="177.2" y="517.6" font-size="8.6" text-anchor="middle" >100</text>
<text x="205.84" y="517.6" font-size="8.6" text-anchor="middle" >120</text>
<text x="234.48" y="517.6" font-size="8.6" text-anchor="middle" >140</text>
<text x="263.12" y="517.6" font-size="8.6" text-anchor="middle" >160</text>
<text x="291.76" y="517.6" font-size="8.6" text-anchor="middle" >180</text>
<text x="320.4" y="517.6" font-size="8.6" text-anchor="middle" >200</text>
<text x="30.3" y="508.8" font-size="8.6" text-anchor="end" >0</text>
<text x="30.3" y="476.67" font-size="8.6" text-anchor="end" >0.05</text>
<text x="30.3" y="444.54" font-size="8.6" text-anchor="end" >0.1</text>
<text x="30.3" y="412.41" font-size="8.6" text-anchor="end" >0.15</text>
<text x="30.3" y="380.29" font-size="8.6" text-anchor="end" >0.2</text>
<text x="30.3" y="348.16" font-size="8.6" text-anchor="end" >0.25</text>
<text x="30.3" y="316.03" font-size="8.6" text-anchor="end" >0.3</text>
<text x="30.3" y="283.9" font-size="8.6" text-anchor="end" >0.35</text>
<text x="177.4" y="529.7" font-size="9.5" text-anchor="middle" >Epoch</text>
<text transform="translate(11,393.6) rotate(-90)" font-size="9.7" text-anchor="middle">Train-loss</text>
<text x="165.3" y="544.6" font-size="9" text-anchor="middle">(<tspan font-weight="bold">b</tspan>)</text>
<rect x="92.4" y="331.05" width="132.2" height="103.35" fill="#fff" stroke="none" stroke-width="0"/>
<clipPath id="cib"><rect x="92.4" y="331.05" width="132.2" height="103.35"/></clipPath>
<g clip-path="url(#cib)">
<polyline points="91.78,274.72 95.46,299.55 99.14,289.45 102.82,291.84 106.5,318.79 110.18,332.63 113.86,319.85 117.54,330.95 121.22,340.25 124.9,340.2 128.58,341.11 132.26,349.75 135.94,349.28 139.62,354.92 143.3,355.69 146.98,352.61 150.66,365.22 154.34,357.33 158.02,362.93 161.7,361.03 165.38,361.27 169.06,369.43 172.74,366.61 176.42,356.19 180.1,372 183.78,369.48 187.46,378.49 191.14,375.69 194.82,376.96 198.5,363.08 202.18,375.93 205.86,389.83 209.54,371.39 213.22,380.51 216.9,377.05 220.58,380.37 224.26,375.9 227.94,382.98" fill="none" stroke="#4a4a4a" stroke-width="0.6" stroke-linejoin="round" />
<polyline points="91.78,352.37 95.46,346.68 99.14,349.57 102.82,350.08 106.5,363.52 110.18,368.87 113.86,363.79 117.54,375.87 121.22,374.47 124.9,376.51 128.58,379.07 132.26,382.92 135.94,389.89 139.62,383.71 143.3,392.84 146.98,395.35 150.66,389.62 154.34,397.13 158.02,403.59 161.7,404.71 165.38,404.04 169.06,406.84 172.74,412.64 176.42,407.51 180.1,407.68 183.78,410.32 187.46,412.78 191.14,412.95 194.82,413.49 198.5,417.92 202.18,417.52 205.86,417.05 209.54,416.48 213.22,418.29 216.9,422.36 220.58,422.38 224.26,417.23 227.94,424.2" fill="none" stroke="#ff6a6a" stroke-width="0.6" stroke-linejoin="round" />
<polyline points="91.78,345.71 95.46,345.49 99.14,354.23 102.82,355.25 106.5,365.39 110.18,379.4 113.86,375.48 117.54,384.53 121.22,377.61 124.9,378.41 128.58,386.85 132.26,388.16 135.94,395.59 139.62,401.68 143.3,398.61 146.98,399.84 150.66,407.6 154.34,405.01 158.02,404.19 161.7,406.95 165.38,406.76 169.06,409.67 172.74,414.25 176.42,414.73 180.1,414.1 183.78,418.93 187.46,414.25 191.14,415.9 194.82,421.03 198.5,422.67 202.18,411.86 205.86,420.2 209.54,419.62 213.22,419.13 216.9,422.84 220.58,423.92 224.26,424.72 227.94,428.01" fill="none" stroke="#5a66ff" stroke-width="0.6" stroke-linejoin="round" />
<polyline points="91.78,330.52 95.46,337.24 99.14,343 102.82,345.13 106.5,357.72 110.18,361.76 113.86,367.54 117.54,374.7 121.22,380.86 124.9,384.33 128.58,393.07 132.26,396.21 135.94,400.2 139.62,404.64 143.3,408.13 146.98,412.18 150.66,414.62 154.34,418.07 158.02,420.82 161.7,420.59 165.38,425.63 169.06,424.35 172.74,427.16 176.42,428.17 180.1,430.96 183.78,431.86 187.46,436.05 191.14,431.8 194.82,435.61 198.5,436.8 202.18,435.35 205.86,436.46 209.54,436.75 213.22,437.97 216.9,437.44 220.58,439.8 224.26,438.92 227.94,442.64" fill="none" stroke="#4ff0f0" stroke-width="0.6" stroke-linejoin="round" />
<polyline points="91.78,353.36 95.46,362.13 99.14,357.99 102.82,369.66 106.5,377.64 110.18,382.9 113.86,388.42 117.54,397.33 121.22,397.06 124.9,400.52 128.58,400.04 132.26,403.77 135.94,405.74 139.62,410 143.3,411.71 146.98,416.01 150.66,418.56 154.34,423.46 158.02,420.74 161.7,424.41 165.38,426.44 169.06,425.82 172.74,428.61 176.42,429.68 180.1,429.13 183.78,428.18 187.46,430.6 191.14,433.51 194.82,432.95 198.5,431.42 202.18,435.12 205.86,432.19 209.54,435.92 213.22,434.9 216.9,436.97 220.58,437.93 224.26,438.07 227.94,435.44" fill="none" stroke="#86c286" stroke-width="0.6" stroke-linejoin="round" />
<polyline points="91.78,307.52 95.46,310.65 99.14,317.3 102.82,321.49 106.5,329.92 110.18,330.62 113.86,337.1 117.54,334.52 121.22,335.77 124.9,341.98 128.58,342.46 132.26,343.51 135.94,348.55 139.62,353.58 143.3,356.12 146.98,362.91 150.66,361.86 154.34,367.03 158.02,368.35 161.7,369.93 165.38,373.67 169.06,374.4 172.74,375.41 176.42,379.08 180.1,379.63 183.78,382.83 187.46,384.07 191.14,383.86 194.82,385.61 198.5,388.94 202.18,390.44 205.86,391.63 209.54,394.56 213.22,392.81 216.9,395.87 220.58,398.67 224.26,399.53 227.94,397.54" fill="none" stroke="#fff04a" stroke-width="0.6" stroke-linejoin="round" />
<polyline points="91.78,335.54 95.46,337.59 99.14,352.53 102.82,352.78 106.5,355.95 110.18,355.16 113.86,366.26 117.54,369.99 121.22,370.23 124.9,368.3 128.58,373.57 132.26,377.47 135.94,375.26 139.62,385.63 143.3,390.09 146.98,384.42 150.66,387.18 154.34,394.79 158.02,394.52 161.7,395.22 165.38,397.55 169.06,401.6 172.74,401.25 176.42,404.85 180.1,403.33 183.78,406.24 187.46,403.4 191.14,407.52 194.82,411.91 198.5,409.94 202.18,409.13 205.86,411.36 209.54,411.22 213.22,413.64 216.9,412.58 220.58,416.9 224.26,416.22 227.94,419.23" fill="none" stroke="#ff4ff0" stroke-width="0.6" stroke-linejoin="round" />
<polyline points="91.78,353.73 95.46,354.42 99.14,358.9 102.82,363.37 106.5,377.35 110.18,381.58 113.86,386.01 117.54,385.66 121.22,395.66 124.9,395.81 128.58,391.58 132.26,397.72 135.94,403.67 139.62,405.65 143.3,406.7 146.98,409.24 150.66,413.46 154.34,416.3 158.02,416.14 161.7,419.63 165.38,418.33 169.06,420.54 172.74,424.64 176.42,422.47 180.1,425.58 183.78,424.82 187.46,427.53 191.14,428.7 194.82,428.08 198.5,430.06 202.18,428.79 205.86,428.84 209.54,428.44 213.22,429.72 216.9,432.15 220.58,431.79 224.26,432.46 227.94,431.94" fill="none" stroke="#a9cdf5" stroke-width="0.6" stroke-linejoin="round" />
<polyline points="91.78,346.18 95.46,356.9 99.14,360 102.82,355.31 106.5,365.1 110.18,370.93 113.86,375.4 117.54,385.95 121.22,386.7 124.9,390.69 128.58,391.64 132.26,394.09 135.94,394.15 139.62,395.05 143.3,397.55 146.98,397.59 150.66,408.04 154.34,407.57 158.02,408.71 161.7,413.21 165.38,414.89 169.06,414.33 172.74,417.93 176.42,416.24 180.1,416.23 183.78,421.73 187.46,424.19 191.14,421.58 194.82,424.62 198.5,423.2 202.18,425.21 205.86,424.27 209.54,423.82 213.22,425.25 216.9,426.74 220.58,429.44 224.26,432.58 227.94,431.53" fill="none" stroke="#e070c4" stroke-width="0.6" stroke-linejoin="round" />
<polyline points="91.78,356.36 95.46,360.43 99.14,366.86 102.82,374.24 106.5,380.81 110.18,385.91 113.86,397.14 117.54,388.15 121.22,396.76 124.9,401.15 128.58,406.5 132.26,408.6 135.94,407.5 139.62,410.62 143.3,417.75 146.98,420.43 150.66,420.55 154.34,424.45 158.02,424.5 161.7,428.56 165.38,429.39 169.06,429.1 172.74,431.41 176.42,431.59 180.1,434.69 183.78,435.32 187.46,433.91 191.14,433.85 194.82,435.31 198.5,437.25 202.18,436.83 205.86,435.98 209.54,436.98 213.22,438.33 216.9,439.62 220.58,438.32 224.26,440.73 227.94,441.56" fill="none" stroke="#5e5e5e" stroke-width="0.6" stroke-linejoin="round" />
<polyline points="91.78,350.69 95.46,355.69 99.14,361.01 102.82,371.22 106.5,372.22 110.18,373.86 113.86,381.82 117.54,378.84 121.22,384.01 124.9,389.07 128.58,382.28 132.26,390.37 135.94,394.4 139.62,390.93 143.3,396.81 146.98,405.08 150.66,405.45 154.34,410.47 158.02,414.76 161.7,406.81 165.38,409.03 169.06,419.07 172.74,414.8 176.42,421.72 180.1,415.65 183.78,419.24 187.46,410.92 191.14,425.35 194.82,421.9 198.5,410.43 202.18,415.27 205.86,430.22 209.54,422.78 213.22,426.26 216.9,426.33 220.58,426.12 224.26,413.24 227.94,431.19" fill="none" stroke="#b060c0" stroke-width="0.6" stroke-linejoin="round" />
<polyline points="91.78,355.42 95.46,364.04 99.14,373.64 102.82,375.91 106.5,383.96 110.18,387.47 113.86,390.84 117.54,397.2 121.22,402.27 124.9,405.51 128.58,407.68 132.26,410.47 135.94,413.04 139.62,415.65 143.3,422.66 146.98,422.39 150.66,424.82 154.34,425.38 158.02,431.06 161.7,430.42 165.38,428.8 169.06,434.31 172.74,433.96 176.42,434.19 180.1,432.95 183.78,436.95 187.46,438.92 191.14,437.69 194.82,438.76 198.5,439.14 202.18,441.38 205.86,440.77 209.54,440.71 213.22,441.21 216.9,441.64 220.58,443.71 224.26,442.23 227.94,443.66" fill="none" stroke="#5cff5c" stroke-width="0.6" stroke-linejoin="round" />
</g>
<rect x="92.4" y="331.05" width="132.2" height="103.35" fill="none" stroke="#8a8a8a" stroke-width="0.5"/>
<path d="M106.5 434.4v-1.4M106.5 331.05v1.4M124.9 434.4v-1.4M124.9 331.05v1.4M143.3 434.4v-1.4M143.3 331.05v1.4M161.7 434.4v-1.4M161.7 331.05v1.4M180.1 434.4v-1.4M180.1 331.05v1.4M198.5 434.4v-1.4M198.5 331.05v1.4M216.9 434.4v-1.4M216.9 331.05v1.4M92.4 417.82h1.4M224.6 417.82h-1.4M92.4 401.24h1.4M224.6 401.24h-1.4M92.4 384.66h1.4M224.6 384.66h-1.4M92.4 368.08h1.4M224.6 368.08h-1.4M92.4 351.5h1.4M224.6 351.5h-1.4M92.4 334.92h1.4M224.6 334.92h-1.4" stroke="#8a8a8a" stroke-width="0.4" fill="none"/>
<text x="106.5" y="440.4" font-size="4.4" text-anchor="middle"  class="s">25</text>
<text x="124.9" y="440.4" font-size="4.4" text-anchor="middle"  class="s">30</text>
<text x="143.3" y="440.4" font-size="4.4" text-anchor="middle"  class="s">35</text>
<text x="161.7" y="440.4" font-size="4.4" text-anchor="middle"  class="s">40</text>
<text x="180.1" y="440.4" font-size="4.4" text-anchor="middle"  class="s">45</text>
<text x="198.5" y="440.4" font-size="4.4" text-anchor="middle"  class="s">50</text>
<text x="216.9" y="440.4" font-size="4.4" text-anchor="middle"  class="s">55</text>
<text x="90.6" y="435.8" font-size="4.3" text-anchor="end"  class="s">0.03</text>
<text x="90.6" y="419.22" font-size="4.3" text-anchor="end"  class="s">0.04</text>
<text x="90.6" y="402.64" font-size="4.3" text-anchor="end"  class="s">0.05</text>
<text x="90.6" y="386.06" font-size="4.3" text-anchor="end"  class="s">0.06</text>
<text x="90.6" y="369.48" font-size="4.3" text-anchor="end"  class="s">0.07</text>
<text x="90.6" y="352.9" font-size="4.3" text-anchor="end"  class="s">0.08</text>
<text x="90.6" y="336.32" font-size="4.3" text-anchor="end"  class="s">0.09</text>
<text x="158.2" y="445.6" font-size="4.7" text-anchor="middle"  class="s">Epoch</text>
<text transform="translate(81.4,382.6) rotate(-90)" font-size="4.5" class="s" text-anchor="middle">Train-loss</text>
<rect x="228.3" y="287.1" width="85.1" height="113.5" fill="#fff" stroke="#666" stroke-width="0.7"/>
<line x1="231.1" y1="292.9" x2="257.1" y2="292.9" stroke="#8c8c8c" stroke-width="0.9"/>
<text x="259.5" y="295.6" font-size="7.8" text-anchor="start" >FCN</text>
<line x1="231.1" y1="302.18" x2="257.1" y2="302.18" stroke="#ff7a7a" stroke-width="0.9"/>
<text x="259.5" y="304.88" font-size="7.8" text-anchor="start" >U-Net</text>
<line x1="231.1" y1="311.46" x2="257.1" y2="311.46" stroke="#6a74ff" stroke-width="0.9"/>
<text x="259.5" y="314.16" font-size="7.8" text-anchor="start" >Attention U-Net</text>
<line x1="231.1" y1="320.74" x2="257.1" y2="320.74" stroke="#7af2f2" stroke-width="0.9"/>
<text x="259.5" y="323.44" font-size="7.8" text-anchor="start" >ResUNet</text>
<line x1="231.1" y1="330.02" x2="257.1" y2="330.02" stroke="#a0cca0" stroke-width="0.9"/>
<text x="259.5" y="332.72" font-size="7.8" text-anchor="start" >DeepLabv3+</text>
<line x1="231.1" y1="339.3" x2="257.1" y2="339.3" stroke="#fff27a" stroke-width="0.9"/>
<text x="259.5" y="342" font-size="7.8" text-anchor="start" >PSPNet</text>
<line x1="231.1" y1="348.58" x2="257.1" y2="348.58" stroke="#ff6af2" stroke-width="0.9"/>
<text x="259.5" y="351.28" font-size="7.8" text-anchor="start" >RefineNet</text>
<line x1="231.1" y1="357.86" x2="257.1" y2="357.86" stroke="#c0d8f5" stroke-width="0.9"/>
<text x="259.5" y="360.56" font-size="7.8" text-anchor="start" >TrSeg</text>
<line x1="231.1" y1="367.14" x2="257.1" y2="367.14" stroke="#e080c8" stroke-width="0.9"/>
<text x="259.5" y="369.84" font-size="7.8" text-anchor="start" >CKDNet</text>
<line x1="231.1" y1="376.42" x2="257.1" y2="376.42" stroke="#666666" stroke-width="0.9"/>
<text x="259.5" y="379.12" font-size="7.8" text-anchor="start" >FAT-Net</text>
<line x1="231.1" y1="385.7" x2="257.1" y2="385.7" stroke="#b878c6" stroke-width="0.9"/>
<text x="259.5" y="388.4" font-size="7.8" text-anchor="start" >SegFormer</text>
<line x1="231.1" y1="394.98" x2="257.1" y2="394.98" stroke="#78ff78" stroke-width="0.9"/>
<text x="259.5" y="397.68" font-size="7.8" text-anchor="start" >MulTNet(Ours)</text>
</svg></body></html>
